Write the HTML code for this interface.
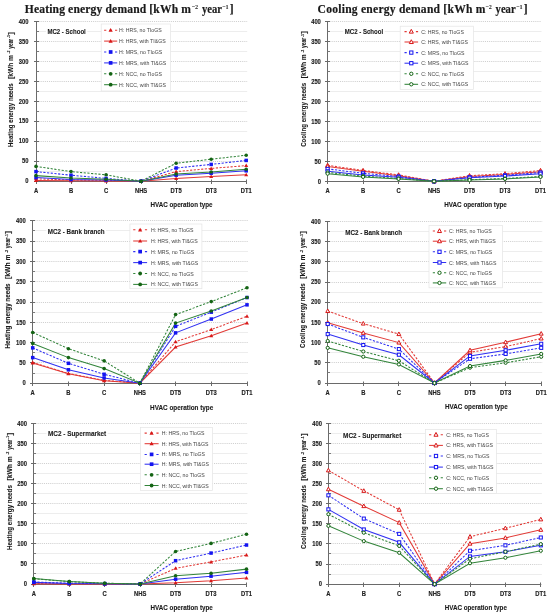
<!DOCTYPE html><html><head><meta charset="utf-8"><style>html,body{margin:0;padding:0;background:#fff;overflow:hidden;width:550px;height:615px;}svg{display:block;will-change:transform;}.tk{font-family:"Liberation Sans",sans-serif;font-weight:bold;font-size:6.6px;fill:#222;stroke:#222;stroke-width:0.14px}.axt{font-family:"Liberation Sans",sans-serif;font-weight:bold;font-size:6.8px;fill:#1a1a1a;stroke:#1a1a1a;stroke-width:0.1px}.lab{font-family:"Liberation Sans",sans-serif;font-weight:bold;font-size:7.2px;fill:#1a1a1a;stroke:#1a1a1a;stroke-width:0.1px}.ttl{font-family:"Liberation Serif",serif;font-weight:bold;font-size:11.6px;fill:#1a1a1a;stroke:#1a1a1a;stroke-width:0.18px}.sup{font-family:"Liberation Serif",serif;font-weight:bold;font-size:6.2px;fill:#161616}.yt{font-family:"Liberation Sans",sans-serif;font-weight:bold;font-size:7.8px;fill:#1a1a1a;stroke:#1a1a1a;stroke-width:0.1px}.lg{font-family:"Liberation Sans",sans-serif;font-size:6.1px;fill:#444}</style></head><body>
<svg width="550" height="615" viewBox="0 0 550 615">
<rect width="550" height="615" fill="#fff"/>
<line x1="38.50" y1="171.50" x2="247.20" y2="171.50" stroke="#ededed" stroke-width="1"/>
<line x1="38.50" y1="161.50" x2="247.20" y2="161.50" stroke="#d0d0d0" stroke-width="1" stroke-dasharray="1.1,1.0"/>
<line x1="38.50" y1="151.50" x2="247.20" y2="151.50" stroke="#ededed" stroke-width="1"/>
<line x1="38.50" y1="141.50" x2="247.20" y2="141.50" stroke="#d0d0d0" stroke-width="1" stroke-dasharray="1.1,1.0"/>
<line x1="38.50" y1="131.50" x2="247.20" y2="131.50" stroke="#ededed" stroke-width="1"/>
<line x1="38.50" y1="121.50" x2="247.20" y2="121.50" stroke="#d0d0d0" stroke-width="1" stroke-dasharray="1.1,1.0"/>
<line x1="38.50" y1="111.50" x2="247.20" y2="111.50" stroke="#ededed" stroke-width="1"/>
<line x1="38.50" y1="101.50" x2="247.20" y2="101.50" stroke="#d0d0d0" stroke-width="1" stroke-dasharray="1.1,1.0"/>
<line x1="38.50" y1="91.50" x2="247.20" y2="91.50" stroke="#ededed" stroke-width="1"/>
<line x1="38.50" y1="81.50" x2="247.20" y2="81.50" stroke="#d0d0d0" stroke-width="1" stroke-dasharray="1.1,1.0"/>
<line x1="38.50" y1="71.50" x2="247.20" y2="71.50" stroke="#ededed" stroke-width="1"/>
<line x1="38.50" y1="61.50" x2="247.20" y2="61.50" stroke="#d0d0d0" stroke-width="1" stroke-dasharray="1.1,1.0"/>
<line x1="38.50" y1="51.50" x2="247.20" y2="51.50" stroke="#ededed" stroke-width="1"/>
<line x1="38.50" y1="41.50" x2="247.20" y2="41.50" stroke="#d0d0d0" stroke-width="1" stroke-dasharray="1.1,1.0"/>
<line x1="38.50" y1="31.50" x2="247.20" y2="31.50" stroke="#ededed" stroke-width="1"/>
<line x1="38.50" y1="21.50" x2="247.20" y2="21.50" stroke="#d0d0d0" stroke-width="1" stroke-dasharray="1.1,1.0"/>
<line x1="36.50" y1="21.00" x2="36.50" y2="182.00" stroke="#6a6a6a" stroke-width="1.0"/>
<line x1="34.00" y1="181.50" x2="39.00" y2="181.50" stroke="#6a6a6a" stroke-width="1"/>
<text x="28.60" y="183.40" text-anchor="end" class="tk" textLength="3.25" lengthAdjust="spacingAndGlyphs">0</text>
<line x1="36.50" y1="171.50" x2="39.00" y2="171.50" stroke="#7a7a7a" stroke-width="1"/>
<line x1="34.00" y1="161.50" x2="39.00" y2="161.50" stroke="#6a6a6a" stroke-width="1"/>
<text x="28.60" y="163.42" text-anchor="end" class="tk" textLength="6.51" lengthAdjust="spacingAndGlyphs">50</text>
<line x1="36.50" y1="151.50" x2="39.00" y2="151.50" stroke="#7a7a7a" stroke-width="1"/>
<line x1="34.00" y1="141.50" x2="39.00" y2="141.50" stroke="#6a6a6a" stroke-width="1"/>
<text x="28.60" y="143.45" text-anchor="end" class="tk" textLength="9.76" lengthAdjust="spacingAndGlyphs">100</text>
<line x1="36.50" y1="131.50" x2="39.00" y2="131.50" stroke="#7a7a7a" stroke-width="1"/>
<line x1="34.00" y1="121.50" x2="39.00" y2="121.50" stroke="#6a6a6a" stroke-width="1"/>
<text x="28.60" y="123.47" text-anchor="end" class="tk" textLength="9.76" lengthAdjust="spacingAndGlyphs">150</text>
<line x1="36.50" y1="111.50" x2="39.00" y2="111.50" stroke="#7a7a7a" stroke-width="1"/>
<line x1="34.00" y1="101.50" x2="39.00" y2="101.50" stroke="#6a6a6a" stroke-width="1"/>
<text x="28.60" y="103.50" text-anchor="end" class="tk" textLength="9.76" lengthAdjust="spacingAndGlyphs">200</text>
<line x1="36.50" y1="91.50" x2="39.00" y2="91.50" stroke="#7a7a7a" stroke-width="1"/>
<line x1="34.00" y1="81.50" x2="39.00" y2="81.50" stroke="#6a6a6a" stroke-width="1"/>
<text x="28.60" y="83.53" text-anchor="end" class="tk" textLength="9.76" lengthAdjust="spacingAndGlyphs">250</text>
<line x1="36.50" y1="71.50" x2="39.00" y2="71.50" stroke="#7a7a7a" stroke-width="1"/>
<line x1="34.00" y1="61.50" x2="39.00" y2="61.50" stroke="#6a6a6a" stroke-width="1"/>
<text x="28.60" y="63.55" text-anchor="end" class="tk" textLength="9.76" lengthAdjust="spacingAndGlyphs">300</text>
<line x1="36.50" y1="51.50" x2="39.00" y2="51.50" stroke="#7a7a7a" stroke-width="1"/>
<line x1="34.00" y1="41.50" x2="39.00" y2="41.50" stroke="#6a6a6a" stroke-width="1"/>
<text x="28.60" y="43.58" text-anchor="end" class="tk" textLength="9.76" lengthAdjust="spacingAndGlyphs">350</text>
<line x1="36.50" y1="31.50" x2="39.00" y2="31.50" stroke="#7a7a7a" stroke-width="1"/>
<line x1="34.00" y1="21.50" x2="39.00" y2="21.50" stroke="#6a6a6a" stroke-width="1"/>
<text x="28.60" y="23.60" text-anchor="end" class="tk" textLength="9.76" lengthAdjust="spacingAndGlyphs">400</text>
<line x1="36.50" y1="181.50" x2="246.70" y2="181.50" stroke="#6a6a6a" stroke-width="1.0"/>
<line x1="36.50" y1="179.50" x2="36.50" y2="184.00" stroke="#6a6a6a" stroke-width="1"/>
<text x="36.00" y="192.80" text-anchor="middle" class="tk" textLength="4.22" lengthAdjust="spacingAndGlyphs">A</text>
<line x1="71.50" y1="179.50" x2="71.50" y2="184.00" stroke="#6a6a6a" stroke-width="1"/>
<text x="71.03" y="192.80" text-anchor="middle" class="tk" textLength="4.22" lengthAdjust="spacingAndGlyphs">B</text>
<line x1="106.50" y1="179.50" x2="106.50" y2="184.00" stroke="#6a6a6a" stroke-width="1"/>
<text x="106.07" y="192.80" text-anchor="middle" class="tk" textLength="4.22" lengthAdjust="spacingAndGlyphs">C</text>
<line x1="141.50" y1="179.50" x2="141.50" y2="184.00" stroke="#6a6a6a" stroke-width="1"/>
<text x="141.10" y="192.80" text-anchor="middle" class="tk" textLength="12.35" lengthAdjust="spacingAndGlyphs">NHS</text>
<line x1="176.50" y1="179.50" x2="176.50" y2="184.00" stroke="#6a6a6a" stroke-width="1"/>
<text x="176.13" y="192.80" text-anchor="middle" class="tk" textLength="11.05" lengthAdjust="spacingAndGlyphs">DT5</text>
<line x1="211.50" y1="179.50" x2="211.50" y2="184.00" stroke="#6a6a6a" stroke-width="1"/>
<text x="211.17" y="192.80" text-anchor="middle" class="tk" textLength="11.05" lengthAdjust="spacingAndGlyphs">DT3</text>
<line x1="246.50" y1="179.50" x2="246.50" y2="184.00" stroke="#6a6a6a" stroke-width="1"/>
<text x="246.20" y="192.80" text-anchor="middle" class="tk" textLength="11.05" lengthAdjust="spacingAndGlyphs">DT1</text>
<text x="150.50" y="206.80" class="axt" textLength="62.10" lengthAdjust="spacingAndGlyphs">HVAC operation type</text>
<g transform="translate(12.80,146.90) rotate(-90)"><text x="0" y="0" class="yt" textLength="63.49" lengthAdjust="spacingAndGlyphs">Heating energy needs</text><text x="68.07" y="0" class="yt" textLength="23.72" lengthAdjust="spacingAndGlyphs">[kWh m</text><text x="93.51" y="-2.4" class="yt" style="font-size:4.2px" textLength="2.75" lengthAdjust="spacingAndGlyphs">-2</text><text x="98.10" y="0" class="yt" textLength="10.08" lengthAdjust="spacingAndGlyphs">year</text><text x="108.87" y="-2.4" class="yt" style="font-size:4.2px" textLength="2.75" lengthAdjust="spacingAndGlyphs">-1</text><text x="112.19" y="0" class="yt" textLength="2.75" lengthAdjust="spacingAndGlyphs">]</text></g>
<polyline points="36.00,178.80 71.03,180.00 106.07,180.40 141.10,181.20 176.13,171.61 211.17,168.42 246.20,165.62" fill="none" stroke="#e23a36" stroke-width="1.05" stroke-dasharray="2.2,1.5"/>
<polyline points="36.00,180.40 71.03,180.80 106.07,181.00 141.10,181.20 176.13,178.40 211.17,176.41 246.20,174.81" fill="none" stroke="#e23a36" stroke-width="1.05"/>
<polyline points="36.00,171.61 71.03,175.21 106.07,178.40 141.10,181.20 176.13,168.02 211.17,164.42 246.20,160.43" fill="none" stroke="#3030f2" stroke-width="1.05" stroke-dasharray="2.2,1.5"/>
<polyline points="36.00,177.60 71.03,179.60 106.07,180.00 141.10,181.20 176.13,175.21 211.17,173.21 246.20,170.81" fill="none" stroke="#3030f2" stroke-width="1.05"/>
<polyline points="36.00,166.42 71.03,171.61 106.07,174.81 141.10,181.20 176.13,163.22 211.17,159.23 246.20,155.23" fill="none" stroke="#32843a" stroke-width="1.05" stroke-dasharray="2.2,1.5"/>
<polyline points="36.00,175.61 71.03,178.00 106.07,179.20 141.10,181.20 176.13,174.01 211.17,172.01 246.20,169.21" fill="none" stroke="#32843a" stroke-width="1.05"/>
<path d="M36.00,176.80L38.00,180.30L34.00,180.30Z" fill="#d81818"/>
<path d="M71.03,178.00L73.03,181.50L69.03,181.50Z" fill="#d81818"/>
<path d="M106.07,178.40L108.07,181.90L104.07,181.90Z" fill="#d81818"/>
<path d="M141.10,179.20L143.10,182.70L139.10,182.70Z" fill="#d81818"/>
<path d="M176.13,169.61L178.13,173.11L174.13,173.11Z" fill="#d81818"/>
<path d="M211.17,166.42L213.17,169.92L209.17,169.92Z" fill="#d81818"/>
<path d="M246.20,163.62L248.20,167.12L244.20,167.12Z" fill="#d81818"/>
<path d="M36.00,178.40L38.00,181.90L34.00,181.90Z" fill="#d81818"/>
<path d="M71.03,178.80L73.03,182.30L69.03,182.30Z" fill="#d81818"/>
<path d="M106.07,179.00L108.07,182.50L104.07,182.50Z" fill="#d81818"/>
<path d="M141.10,179.20L143.10,182.70L139.10,182.70Z" fill="#d81818"/>
<path d="M176.13,176.40L178.13,179.90L174.13,179.90Z" fill="#d81818"/>
<path d="M211.17,174.41L213.17,177.91L209.17,177.91Z" fill="#d81818"/>
<path d="M246.20,172.81L248.20,176.31L244.20,176.31Z" fill="#d81818"/>
<rect x="34.25" y="169.86" width="3.50" height="3.50" fill="#1414f0"/>
<rect x="69.28" y="173.46" width="3.50" height="3.50" fill="#1414f0"/>
<rect x="104.32" y="176.65" width="3.50" height="3.50" fill="#1414f0"/>
<rect x="139.35" y="179.45" width="3.50" height="3.50" fill="#1414f0"/>
<rect x="174.38" y="166.27" width="3.50" height="3.50" fill="#1414f0"/>
<rect x="209.42" y="162.67" width="3.50" height="3.50" fill="#1414f0"/>
<rect x="244.45" y="158.68" width="3.50" height="3.50" fill="#1414f0"/>
<rect x="34.25" y="175.85" width="3.50" height="3.50" fill="#1414f0"/>
<rect x="69.28" y="177.85" width="3.50" height="3.50" fill="#1414f0"/>
<rect x="104.32" y="178.25" width="3.50" height="3.50" fill="#1414f0"/>
<rect x="139.35" y="179.45" width="3.50" height="3.50" fill="#1414f0"/>
<rect x="174.38" y="173.46" width="3.50" height="3.50" fill="#1414f0"/>
<rect x="209.42" y="171.46" width="3.50" height="3.50" fill="#1414f0"/>
<rect x="244.45" y="169.06" width="3.50" height="3.50" fill="#1414f0"/>
<circle cx="36.00" cy="166.42" r="1.80" fill="#146414"/>
<circle cx="71.03" cy="171.61" r="1.80" fill="#146414"/>
<circle cx="106.07" cy="174.81" r="1.80" fill="#146414"/>
<circle cx="141.10" cy="181.20" r="1.80" fill="#146414"/>
<circle cx="176.13" cy="163.22" r="1.80" fill="#146414"/>
<circle cx="211.17" cy="159.23" r="1.80" fill="#146414"/>
<circle cx="246.20" cy="155.23" r="1.80" fill="#146414"/>
<circle cx="36.00" cy="175.61" r="1.80" fill="#146414"/>
<circle cx="71.03" cy="178.00" r="1.80" fill="#146414"/>
<circle cx="106.07" cy="179.20" r="1.80" fill="#146414"/>
<circle cx="141.10" cy="181.20" r="1.80" fill="#146414"/>
<circle cx="176.13" cy="174.01" r="1.80" fill="#146414"/>
<circle cx="211.17" cy="172.01" r="1.80" fill="#146414"/>
<circle cx="246.20" cy="169.21" r="1.80" fill="#146414"/>
<rect x="45.90" y="27.50" width="41.40" height="8" fill="#fff"/>
<text x="47.40" y="33.50" class="lab" textLength="38.40" lengthAdjust="spacingAndGlyphs">MC2 - School</text>
<rect x="101.20" y="24.00" width="69.40" height="67.00" fill="#fff" stroke="#e4e4e4" stroke-width="0.7"/>
<path d="M104.10,30.20H106.30M109.25,30.20H112.05M115.00,30.20H117.20" stroke="#e23a36" stroke-width="1.05"/>
<path d="M110.65,28.10L112.75,31.77L108.55,31.77Z" fill="#d81818"/>
<text x="119.00" y="32.20" class="lg" textLength="42.67" lengthAdjust="spacingAndGlyphs">H: HRS, no TIoGS</text>
<line x1="104.10" y1="41.10" x2="117.20" y2="41.10" stroke="#e23a36" stroke-width="1.05"/>
<path d="M110.65,39.00L112.75,42.68L108.55,42.68Z" fill="#d81818"/>
<text x="119.00" y="43.10" class="lg" textLength="46.71" lengthAdjust="spacingAndGlyphs">H: HRS, with TI&amp;GS</text>
<path d="M104.10,52.00H106.30M109.25,52.00H112.05M115.00,52.00H117.20" stroke="#3030f2" stroke-width="1.05"/>
<rect x="108.81" y="50.16" width="3.68" height="3.68" fill="#1414f0"/>
<text x="119.00" y="54.00" class="lg" textLength="43.25" lengthAdjust="spacingAndGlyphs">H: MRS, no TIoGS</text>
<line x1="104.10" y1="62.90" x2="117.20" y2="62.90" stroke="#3030f2" stroke-width="1.05"/>
<rect x="108.81" y="61.06" width="3.68" height="3.68" fill="#1414f0"/>
<text x="119.00" y="64.90" class="lg" textLength="47.29" lengthAdjust="spacingAndGlyphs">H: MRS, with TI&amp;GS</text>
<path d="M104.10,73.80H106.30M109.25,73.80H112.05M115.00,73.80H117.20" stroke="#32843a" stroke-width="1.05"/>
<circle cx="110.65" cy="73.80" r="1.89" fill="#146414"/>
<text x="119.00" y="75.80" class="lg" textLength="42.96" lengthAdjust="spacingAndGlyphs">H: NCC, no TIoGS</text>
<line x1="104.10" y1="84.70" x2="117.20" y2="84.70" stroke="#32843a" stroke-width="1.05"/>
<circle cx="110.65" cy="84.70" r="1.89" fill="#146414"/>
<text x="119.00" y="86.70" class="lg" textLength="47.00" lengthAdjust="spacingAndGlyphs">H: NCC, with TI&amp;GS</text>
<line x1="329.50" y1="171.50" x2="541.50" y2="171.50" stroke="#ededed" stroke-width="1"/>
<line x1="329.50" y1="161.50" x2="541.50" y2="161.50" stroke="#d0d0d0" stroke-width="1" stroke-dasharray="1.1,1.0"/>
<line x1="329.50" y1="151.50" x2="541.50" y2="151.50" stroke="#ededed" stroke-width="1"/>
<line x1="329.50" y1="141.50" x2="541.50" y2="141.50" stroke="#d0d0d0" stroke-width="1" stroke-dasharray="1.1,1.0"/>
<line x1="329.50" y1="131.50" x2="541.50" y2="131.50" stroke="#ededed" stroke-width="1"/>
<line x1="329.50" y1="121.50" x2="541.50" y2="121.50" stroke="#d0d0d0" stroke-width="1" stroke-dasharray="1.1,1.0"/>
<line x1="329.50" y1="111.50" x2="541.50" y2="111.50" stroke="#ededed" stroke-width="1"/>
<line x1="329.50" y1="101.50" x2="541.50" y2="101.50" stroke="#d0d0d0" stroke-width="1" stroke-dasharray="1.1,1.0"/>
<line x1="329.50" y1="91.50" x2="541.50" y2="91.50" stroke="#ededed" stroke-width="1"/>
<line x1="329.50" y1="81.50" x2="541.50" y2="81.50" stroke="#d0d0d0" stroke-width="1" stroke-dasharray="1.1,1.0"/>
<line x1="329.50" y1="71.50" x2="541.50" y2="71.50" stroke="#ededed" stroke-width="1"/>
<line x1="329.50" y1="61.50" x2="541.50" y2="61.50" stroke="#d0d0d0" stroke-width="1" stroke-dasharray="1.1,1.0"/>
<line x1="329.50" y1="51.50" x2="541.50" y2="51.50" stroke="#ededed" stroke-width="1"/>
<line x1="329.50" y1="41.50" x2="541.50" y2="41.50" stroke="#d0d0d0" stroke-width="1" stroke-dasharray="1.1,1.0"/>
<line x1="329.50" y1="31.50" x2="541.50" y2="31.50" stroke="#ededed" stroke-width="1"/>
<line x1="329.50" y1="21.50" x2="541.50" y2="21.50" stroke="#d0d0d0" stroke-width="1" stroke-dasharray="1.1,1.0"/>
<line x1="327.50" y1="21.00" x2="327.50" y2="182.00" stroke="#6a6a6a" stroke-width="1.0"/>
<line x1="325.00" y1="181.50" x2="330.00" y2="181.50" stroke="#6a6a6a" stroke-width="1"/>
<text x="320.90" y="183.50" text-anchor="end" class="tk" textLength="3.25" lengthAdjust="spacingAndGlyphs">0</text>
<line x1="327.50" y1="171.50" x2="330.00" y2="171.50" stroke="#7a7a7a" stroke-width="1"/>
<line x1="325.00" y1="161.50" x2="330.00" y2="161.50" stroke="#6a6a6a" stroke-width="1"/>
<text x="320.90" y="163.50" text-anchor="end" class="tk" textLength="6.51" lengthAdjust="spacingAndGlyphs">50</text>
<line x1="327.50" y1="151.50" x2="330.00" y2="151.50" stroke="#7a7a7a" stroke-width="1"/>
<line x1="325.00" y1="141.50" x2="330.00" y2="141.50" stroke="#6a6a6a" stroke-width="1"/>
<text x="320.90" y="143.50" text-anchor="end" class="tk" textLength="9.76" lengthAdjust="spacingAndGlyphs">100</text>
<line x1="327.50" y1="131.50" x2="330.00" y2="131.50" stroke="#7a7a7a" stroke-width="1"/>
<line x1="325.00" y1="121.50" x2="330.00" y2="121.50" stroke="#6a6a6a" stroke-width="1"/>
<text x="320.90" y="123.50" text-anchor="end" class="tk" textLength="9.76" lengthAdjust="spacingAndGlyphs">150</text>
<line x1="327.50" y1="111.50" x2="330.00" y2="111.50" stroke="#7a7a7a" stroke-width="1"/>
<line x1="325.00" y1="101.50" x2="330.00" y2="101.50" stroke="#6a6a6a" stroke-width="1"/>
<text x="320.90" y="103.50" text-anchor="end" class="tk" textLength="9.76" lengthAdjust="spacingAndGlyphs">200</text>
<line x1="327.50" y1="91.50" x2="330.00" y2="91.50" stroke="#7a7a7a" stroke-width="1"/>
<line x1="325.00" y1="81.50" x2="330.00" y2="81.50" stroke="#6a6a6a" stroke-width="1"/>
<text x="320.90" y="83.50" text-anchor="end" class="tk" textLength="9.76" lengthAdjust="spacingAndGlyphs">250</text>
<line x1="327.50" y1="71.50" x2="330.00" y2="71.50" stroke="#7a7a7a" stroke-width="1"/>
<line x1="325.00" y1="61.50" x2="330.00" y2="61.50" stroke="#6a6a6a" stroke-width="1"/>
<text x="320.90" y="63.50" text-anchor="end" class="tk" textLength="9.76" lengthAdjust="spacingAndGlyphs">300</text>
<line x1="327.50" y1="51.50" x2="330.00" y2="51.50" stroke="#7a7a7a" stroke-width="1"/>
<line x1="325.00" y1="41.50" x2="330.00" y2="41.50" stroke="#6a6a6a" stroke-width="1"/>
<text x="320.90" y="43.50" text-anchor="end" class="tk" textLength="9.76" lengthAdjust="spacingAndGlyphs">350</text>
<line x1="327.50" y1="31.50" x2="330.00" y2="31.50" stroke="#7a7a7a" stroke-width="1"/>
<line x1="325.00" y1="21.50" x2="330.00" y2="21.50" stroke="#6a6a6a" stroke-width="1"/>
<text x="320.90" y="23.50" text-anchor="end" class="tk" textLength="9.76" lengthAdjust="spacingAndGlyphs">400</text>
<line x1="327.50" y1="181.50" x2="541.00" y2="181.50" stroke="#6a6a6a" stroke-width="1.0"/>
<line x1="327.50" y1="179.50" x2="327.50" y2="184.00" stroke="#6a6a6a" stroke-width="1"/>
<text x="327.60" y="192.90" text-anchor="middle" class="tk" textLength="4.22" lengthAdjust="spacingAndGlyphs">A</text>
<line x1="363.50" y1="179.50" x2="363.50" y2="184.00" stroke="#6a6a6a" stroke-width="1"/>
<text x="363.08" y="192.90" text-anchor="middle" class="tk" textLength="4.22" lengthAdjust="spacingAndGlyphs">B</text>
<line x1="398.50" y1="179.50" x2="398.50" y2="184.00" stroke="#6a6a6a" stroke-width="1"/>
<text x="398.57" y="192.90" text-anchor="middle" class="tk" textLength="4.22" lengthAdjust="spacingAndGlyphs">C</text>
<line x1="434.50" y1="179.50" x2="434.50" y2="184.00" stroke="#6a6a6a" stroke-width="1"/>
<text x="434.05" y="192.90" text-anchor="middle" class="tk" textLength="12.35" lengthAdjust="spacingAndGlyphs">NHS</text>
<line x1="469.50" y1="179.50" x2="469.50" y2="184.00" stroke="#6a6a6a" stroke-width="1"/>
<text x="469.53" y="192.90" text-anchor="middle" class="tk" textLength="11.05" lengthAdjust="spacingAndGlyphs">DT5</text>
<line x1="505.50" y1="179.50" x2="505.50" y2="184.00" stroke="#6a6a6a" stroke-width="1"/>
<text x="505.02" y="192.90" text-anchor="middle" class="tk" textLength="11.05" lengthAdjust="spacingAndGlyphs">DT3</text>
<line x1="540.50" y1="179.50" x2="540.50" y2="184.00" stroke="#6a6a6a" stroke-width="1"/>
<text x="540.50" y="192.90" text-anchor="middle" class="tk" textLength="11.05" lengthAdjust="spacingAndGlyphs">DT1</text>
<text x="444.30" y="207.00" class="axt" textLength="62.50" lengthAdjust="spacingAndGlyphs">HVAC operation type</text>
<g transform="translate(306.10,146.80) rotate(-90)"><text x="0" y="0" class="yt" textLength="63.99" lengthAdjust="spacingAndGlyphs">Cooling energy needs</text><text x="68.61" y="0" class="yt" textLength="23.91" lengthAdjust="spacingAndGlyphs">[kWh m</text><text x="94.25" y="-2.4" class="yt" style="font-size:4.2px" textLength="2.77" lengthAdjust="spacingAndGlyphs">-2</text><text x="98.87" y="0" class="yt" textLength="10.16" lengthAdjust="spacingAndGlyphs">year</text><text x="109.73" y="-2.4" class="yt" style="font-size:4.2px" textLength="2.77" lengthAdjust="spacingAndGlyphs">-1</text><text x="113.07" y="0" class="yt" textLength="2.77" lengthAdjust="spacingAndGlyphs">]</text></g>
<polyline points="327.60,165.30 363.08,170.50 398.57,174.90 434.05,181.30 469.53,175.70 505.02,173.70 540.50,170.50" fill="none" stroke="#e23a36" stroke-width="1.05" stroke-dasharray="2.2,1.5"/>
<polyline points="327.60,166.50 363.08,171.30 398.57,175.70 434.05,181.30 469.53,176.50 505.02,174.50 540.50,171.70" fill="none" stroke="#e23a36" stroke-width="1.05"/>
<polyline points="327.60,168.90 363.08,173.30 398.57,176.50 434.05,181.30 469.53,177.30 505.02,175.30 540.50,172.50" fill="none" stroke="#3030f2" stroke-width="1.05" stroke-dasharray="2.2,1.5"/>
<polyline points="327.60,171.30 363.08,174.90 398.57,177.30 434.05,181.30 469.53,177.70 505.02,176.10 540.50,173.70" fill="none" stroke="#3030f2" stroke-width="1.05"/>
<polyline points="327.60,172.50 363.08,176.10 398.57,178.50 434.05,181.30 469.53,179.70 505.02,178.50 540.50,176.50" fill="none" stroke="#32843a" stroke-width="1.05" stroke-dasharray="2.2,1.5"/>
<polyline points="327.60,173.70 363.08,176.90 398.57,178.90 434.05,181.30 469.53,180.10 505.02,178.90 540.50,176.90" fill="none" stroke="#32843a" stroke-width="1.05"/>
<path d="M327.60,163.16L329.55,166.76L325.65,166.76Z" fill="#fff" stroke="#d81818" stroke-width="1.0"/>
<path d="M363.08,168.35L365.03,171.96L361.13,171.96Z" fill="#fff" stroke="#d81818" stroke-width="1.0"/>
<path d="M398.57,172.75L400.52,176.36L396.62,176.36Z" fill="#fff" stroke="#d81818" stroke-width="1.0"/>
<path d="M434.05,179.16L436.00,182.76L432.10,182.76Z" fill="#fff" stroke="#d81818" stroke-width="1.0"/>
<path d="M469.53,173.56L471.48,177.16L467.58,177.16Z" fill="#fff" stroke="#d81818" stroke-width="1.0"/>
<path d="M505.02,171.56L506.97,175.16L503.07,175.16Z" fill="#fff" stroke="#d81818" stroke-width="1.0"/>
<path d="M540.50,168.35L542.45,171.96L538.55,171.96Z" fill="#fff" stroke="#d81818" stroke-width="1.0"/>
<path d="M327.60,164.35L329.55,167.96L325.65,167.96Z" fill="#fff" stroke="#d81818" stroke-width="1.0"/>
<path d="M363.08,169.16L365.03,172.76L361.13,172.76Z" fill="#fff" stroke="#d81818" stroke-width="1.0"/>
<path d="M398.57,173.56L400.52,177.16L396.62,177.16Z" fill="#fff" stroke="#d81818" stroke-width="1.0"/>
<path d="M434.05,179.16L436.00,182.76L432.10,182.76Z" fill="#fff" stroke="#d81818" stroke-width="1.0"/>
<path d="M469.53,174.35L471.48,177.96L467.58,177.96Z" fill="#fff" stroke="#d81818" stroke-width="1.0"/>
<path d="M505.02,172.35L506.97,175.96L503.07,175.96Z" fill="#fff" stroke="#d81818" stroke-width="1.0"/>
<path d="M540.50,169.56L542.45,173.16L538.55,173.16Z" fill="#fff" stroke="#d81818" stroke-width="1.0"/>
<rect x="326.05" y="167.35" width="3.10" height="3.10" fill="#fff" stroke="#1414f0" stroke-width="1.0"/>
<rect x="361.53" y="171.75" width="3.10" height="3.10" fill="#fff" stroke="#1414f0" stroke-width="1.0"/>
<rect x="397.02" y="174.95" width="3.10" height="3.10" fill="#fff" stroke="#1414f0" stroke-width="1.0"/>
<rect x="432.50" y="179.75" width="3.10" height="3.10" fill="#fff" stroke="#1414f0" stroke-width="1.0"/>
<rect x="467.98" y="175.75" width="3.10" height="3.10" fill="#fff" stroke="#1414f0" stroke-width="1.0"/>
<rect x="503.47" y="173.75" width="3.10" height="3.10" fill="#fff" stroke="#1414f0" stroke-width="1.0"/>
<rect x="538.95" y="170.95" width="3.10" height="3.10" fill="#fff" stroke="#1414f0" stroke-width="1.0"/>
<rect x="326.05" y="169.75" width="3.10" height="3.10" fill="#fff" stroke="#1414f0" stroke-width="1.0"/>
<rect x="361.53" y="173.35" width="3.10" height="3.10" fill="#fff" stroke="#1414f0" stroke-width="1.0"/>
<rect x="397.02" y="175.75" width="3.10" height="3.10" fill="#fff" stroke="#1414f0" stroke-width="1.0"/>
<rect x="432.50" y="179.75" width="3.10" height="3.10" fill="#fff" stroke="#1414f0" stroke-width="1.0"/>
<rect x="467.98" y="176.15" width="3.10" height="3.10" fill="#fff" stroke="#1414f0" stroke-width="1.0"/>
<rect x="503.47" y="174.55" width="3.10" height="3.10" fill="#fff" stroke="#1414f0" stroke-width="1.0"/>
<rect x="538.95" y="172.15" width="3.10" height="3.10" fill="#fff" stroke="#1414f0" stroke-width="1.0"/>
<circle cx="327.60" cy="172.50" r="1.60" fill="#fff" stroke="#146414" stroke-width="1.0"/>
<circle cx="363.08" cy="176.10" r="1.60" fill="#fff" stroke="#146414" stroke-width="1.0"/>
<circle cx="398.57" cy="178.50" r="1.60" fill="#fff" stroke="#146414" stroke-width="1.0"/>
<circle cx="434.05" cy="181.30" r="1.60" fill="#fff" stroke="#146414" stroke-width="1.0"/>
<circle cx="469.53" cy="179.70" r="1.60" fill="#fff" stroke="#146414" stroke-width="1.0"/>
<circle cx="505.02" cy="178.50" r="1.60" fill="#fff" stroke="#146414" stroke-width="1.0"/>
<circle cx="540.50" cy="176.50" r="1.60" fill="#fff" stroke="#146414" stroke-width="1.0"/>
<circle cx="327.60" cy="173.70" r="1.60" fill="#fff" stroke="#146414" stroke-width="1.0"/>
<circle cx="363.08" cy="176.90" r="1.60" fill="#fff" stroke="#146414" stroke-width="1.0"/>
<circle cx="398.57" cy="178.90" r="1.60" fill="#fff" stroke="#146414" stroke-width="1.0"/>
<circle cx="434.05" cy="181.30" r="1.60" fill="#fff" stroke="#146414" stroke-width="1.0"/>
<circle cx="469.53" cy="180.10" r="1.60" fill="#fff" stroke="#146414" stroke-width="1.0"/>
<circle cx="505.02" cy="178.90" r="1.60" fill="#fff" stroke="#146414" stroke-width="1.0"/>
<circle cx="540.50" cy="176.90" r="1.60" fill="#fff" stroke="#146414" stroke-width="1.0"/>
<rect x="343.20" y="27.80" width="41.50" height="8" fill="#fff"/>
<text x="344.70" y="33.80" class="lab" textLength="38.50" lengthAdjust="spacingAndGlyphs">MC2 - School</text>
<rect x="400.20" y="26.20" width="73.30" height="63.40" fill="#fff" stroke="#e4e4e4" stroke-width="0.7"/>
<path d="M404.50,31.60H406.70M409.90,31.60H412.70M415.90,31.60H418.10" stroke="#e23a36" stroke-width="1.05"/>
<path d="M411.30,29.35L413.35,33.14L409.25,33.14Z" fill="#fff" stroke="#d81818" stroke-width="1.0"/>
<text x="421.20" y="33.60" class="lg" textLength="42.67" lengthAdjust="spacingAndGlyphs">C: HRS, no TIoGS</text>
<line x1="404.50" y1="42.00" x2="418.10" y2="42.00" stroke="#e23a36" stroke-width="1.05"/>
<path d="M411.30,39.75L413.35,43.54L409.25,43.54Z" fill="#fff" stroke="#d81818" stroke-width="1.0"/>
<text x="421.20" y="44.00" class="lg" textLength="46.71" lengthAdjust="spacingAndGlyphs">C: HRS, with TI&amp;GS</text>
<path d="M404.50,52.60H406.70M409.90,52.60H412.70M415.90,52.60H418.10" stroke="#3030f2" stroke-width="1.05"/>
<rect x="409.67" y="50.97" width="3.26" height="3.26" fill="#fff" stroke="#1414f0" stroke-width="1.0"/>
<text x="421.20" y="54.60" class="lg" textLength="43.25" lengthAdjust="spacingAndGlyphs">C: MRS, no TIoGS</text>
<line x1="404.50" y1="63.20" x2="418.10" y2="63.20" stroke="#3030f2" stroke-width="1.05"/>
<rect x="409.67" y="61.57" width="3.26" height="3.26" fill="#fff" stroke="#1414f0" stroke-width="1.0"/>
<text x="421.20" y="65.20" class="lg" textLength="47.29" lengthAdjust="spacingAndGlyphs">C: MRS, with TI&amp;GS</text>
<path d="M404.50,73.80H406.70M409.90,73.80H412.70M415.90,73.80H418.10" stroke="#32843a" stroke-width="1.05"/>
<circle cx="411.30" cy="73.80" r="1.68" fill="#fff" stroke="#146414" stroke-width="1.0"/>
<text x="421.20" y="75.80" class="lg" textLength="42.96" lengthAdjust="spacingAndGlyphs">C: NCC, no TIoGS</text>
<line x1="404.50" y1="84.30" x2="418.10" y2="84.30" stroke="#32843a" stroke-width="1.05"/>
<circle cx="411.30" cy="84.30" r="1.68" fill="#fff" stroke="#146414" stroke-width="1.0"/>
<text x="421.20" y="86.30" class="lg" textLength="47.00" lengthAdjust="spacingAndGlyphs">C: NCC, with TI&amp;GS</text>
<line x1="34.50" y1="373.50" x2="248.00" y2="373.50" stroke="#ededed" stroke-width="1"/>
<line x1="34.50" y1="362.50" x2="248.00" y2="362.50" stroke="#d0d0d0" stroke-width="1" stroke-dasharray="1.1,1.0"/>
<line x1="34.50" y1="352.50" x2="248.00" y2="352.50" stroke="#ededed" stroke-width="1"/>
<line x1="34.50" y1="342.50" x2="248.00" y2="342.50" stroke="#d0d0d0" stroke-width="1" stroke-dasharray="1.1,1.0"/>
<line x1="34.50" y1="332.50" x2="248.00" y2="332.50" stroke="#ededed" stroke-width="1"/>
<line x1="34.50" y1="322.50" x2="248.00" y2="322.50" stroke="#d0d0d0" stroke-width="1" stroke-dasharray="1.1,1.0"/>
<line x1="34.50" y1="312.50" x2="248.00" y2="312.50" stroke="#ededed" stroke-width="1"/>
<line x1="34.50" y1="302.50" x2="248.00" y2="302.50" stroke="#d0d0d0" stroke-width="1" stroke-dasharray="1.1,1.0"/>
<line x1="34.50" y1="291.50" x2="248.00" y2="291.50" stroke="#ededed" stroke-width="1"/>
<line x1="34.50" y1="281.50" x2="248.00" y2="281.50" stroke="#d0d0d0" stroke-width="1" stroke-dasharray="1.1,1.0"/>
<line x1="34.50" y1="271.50" x2="248.00" y2="271.50" stroke="#ededed" stroke-width="1"/>
<line x1="34.50" y1="261.50" x2="248.00" y2="261.50" stroke="#d0d0d0" stroke-width="1" stroke-dasharray="1.1,1.0"/>
<line x1="34.50" y1="251.50" x2="248.00" y2="251.50" stroke="#ededed" stroke-width="1"/>
<line x1="34.50" y1="241.50" x2="248.00" y2="241.50" stroke="#d0d0d0" stroke-width="1" stroke-dasharray="1.1,1.0"/>
<line x1="34.50" y1="230.50" x2="248.00" y2="230.50" stroke="#ededed" stroke-width="1"/>
<line x1="34.50" y1="220.50" x2="248.00" y2="220.50" stroke="#d0d0d0" stroke-width="1" stroke-dasharray="1.1,1.0"/>
<line x1="32.50" y1="220.00" x2="32.50" y2="384.00" stroke="#6a6a6a" stroke-width="1.0"/>
<line x1="30.00" y1="383.50" x2="35.00" y2="383.50" stroke="#6a6a6a" stroke-width="1"/>
<text x="25.80" y="385.40" text-anchor="end" class="tk" textLength="3.25" lengthAdjust="spacingAndGlyphs">0</text>
<line x1="32.50" y1="373.50" x2="35.00" y2="373.50" stroke="#7a7a7a" stroke-width="1"/>
<line x1="30.00" y1="362.50" x2="35.00" y2="362.50" stroke="#6a6a6a" stroke-width="1"/>
<text x="25.80" y="365.10" text-anchor="end" class="tk" textLength="6.51" lengthAdjust="spacingAndGlyphs">50</text>
<line x1="32.50" y1="352.50" x2="35.00" y2="352.50" stroke="#7a7a7a" stroke-width="1"/>
<line x1="30.00" y1="342.50" x2="35.00" y2="342.50" stroke="#6a6a6a" stroke-width="1"/>
<text x="25.80" y="344.80" text-anchor="end" class="tk" textLength="9.76" lengthAdjust="spacingAndGlyphs">100</text>
<line x1="32.50" y1="332.50" x2="35.00" y2="332.50" stroke="#7a7a7a" stroke-width="1"/>
<line x1="30.00" y1="322.50" x2="35.00" y2="322.50" stroke="#6a6a6a" stroke-width="1"/>
<text x="25.80" y="324.50" text-anchor="end" class="tk" textLength="9.76" lengthAdjust="spacingAndGlyphs">150</text>
<line x1="32.50" y1="312.50" x2="35.00" y2="312.50" stroke="#7a7a7a" stroke-width="1"/>
<line x1="30.00" y1="302.50" x2="35.00" y2="302.50" stroke="#6a6a6a" stroke-width="1"/>
<text x="25.80" y="304.20" text-anchor="end" class="tk" textLength="9.76" lengthAdjust="spacingAndGlyphs">200</text>
<line x1="32.50" y1="291.50" x2="35.00" y2="291.50" stroke="#7a7a7a" stroke-width="1"/>
<line x1="30.00" y1="281.50" x2="35.00" y2="281.50" stroke="#6a6a6a" stroke-width="1"/>
<text x="25.80" y="283.90" text-anchor="end" class="tk" textLength="9.76" lengthAdjust="spacingAndGlyphs">250</text>
<line x1="32.50" y1="271.50" x2="35.00" y2="271.50" stroke="#7a7a7a" stroke-width="1"/>
<line x1="30.00" y1="261.50" x2="35.00" y2="261.50" stroke="#6a6a6a" stroke-width="1"/>
<text x="25.80" y="263.60" text-anchor="end" class="tk" textLength="9.76" lengthAdjust="spacingAndGlyphs">300</text>
<line x1="32.50" y1="251.50" x2="35.00" y2="251.50" stroke="#7a7a7a" stroke-width="1"/>
<line x1="30.00" y1="241.50" x2="35.00" y2="241.50" stroke="#6a6a6a" stroke-width="1"/>
<text x="25.80" y="243.30" text-anchor="end" class="tk" textLength="9.76" lengthAdjust="spacingAndGlyphs">350</text>
<line x1="32.50" y1="230.50" x2="35.00" y2="230.50" stroke="#7a7a7a" stroke-width="1"/>
<line x1="30.00" y1="220.50" x2="35.00" y2="220.50" stroke="#6a6a6a" stroke-width="1"/>
<text x="25.80" y="223.00" text-anchor="end" class="tk" textLength="9.76" lengthAdjust="spacingAndGlyphs">400</text>
<line x1="32.50" y1="383.50" x2="247.50" y2="383.50" stroke="#6a6a6a" stroke-width="1.0"/>
<line x1="32.50" y1="381.50" x2="32.50" y2="386.00" stroke="#6a6a6a" stroke-width="1"/>
<text x="32.70" y="394.80" text-anchor="middle" class="tk" textLength="4.22" lengthAdjust="spacingAndGlyphs">A</text>
<line x1="68.50" y1="381.50" x2="68.50" y2="386.00" stroke="#6a6a6a" stroke-width="1"/>
<text x="68.42" y="394.80" text-anchor="middle" class="tk" textLength="4.22" lengthAdjust="spacingAndGlyphs">B</text>
<line x1="104.50" y1="381.50" x2="104.50" y2="386.00" stroke="#6a6a6a" stroke-width="1"/>
<text x="104.13" y="394.80" text-anchor="middle" class="tk" textLength="4.22" lengthAdjust="spacingAndGlyphs">C</text>
<line x1="139.50" y1="381.50" x2="139.50" y2="386.00" stroke="#6a6a6a" stroke-width="1"/>
<text x="139.85" y="394.80" text-anchor="middle" class="tk" textLength="12.35" lengthAdjust="spacingAndGlyphs">NHS</text>
<line x1="175.50" y1="381.50" x2="175.50" y2="386.00" stroke="#6a6a6a" stroke-width="1"/>
<text x="175.57" y="394.80" text-anchor="middle" class="tk" textLength="11.05" lengthAdjust="spacingAndGlyphs">DT5</text>
<line x1="211.50" y1="381.50" x2="211.50" y2="386.00" stroke="#6a6a6a" stroke-width="1"/>
<text x="211.28" y="394.80" text-anchor="middle" class="tk" textLength="11.05" lengthAdjust="spacingAndGlyphs">DT3</text>
<line x1="247.50" y1="381.50" x2="247.50" y2="386.00" stroke="#6a6a6a" stroke-width="1"/>
<text x="247.00" y="394.80" text-anchor="middle" class="tk" textLength="11.05" lengthAdjust="spacingAndGlyphs">DT1</text>
<text x="150.10" y="409.70" class="axt" textLength="63.20" lengthAdjust="spacingAndGlyphs">HVAC operation type</text>
<g transform="translate(10.10,348.50) rotate(-90)"><text x="0" y="0" class="yt" textLength="64.93" lengthAdjust="spacingAndGlyphs">Heating energy needs</text><text x="69.62" y="0" class="yt" textLength="24.26" lengthAdjust="spacingAndGlyphs">[kWh m</text><text x="95.64" y="-2.4" class="yt" style="font-size:4.2px" textLength="2.81" lengthAdjust="spacingAndGlyphs">-2</text><text x="100.32" y="0" class="yt" textLength="10.31" lengthAdjust="spacingAndGlyphs">year</text><text x="111.34" y="-2.4" class="yt" style="font-size:4.2px" textLength="2.81" lengthAdjust="spacingAndGlyphs">-1</text><text x="114.74" y="0" class="yt" textLength="2.81" lengthAdjust="spacingAndGlyphs">]</text></g>
<polyline points="32.70,362.49 68.42,373.46 104.13,380.36 139.85,383.20 175.57,341.79 211.28,329.61 247.00,316.21" fill="none" stroke="#e23a36" stroke-width="1.05" stroke-dasharray="2.2,1.5"/>
<polyline points="32.70,362.90 68.42,373.86 104.13,380.76 139.85,383.20 175.57,347.07 211.28,335.70 247.00,323.11" fill="none" stroke="#e23a36" stroke-width="1.05"/>
<polyline points="32.70,347.88 68.42,363.31 104.13,374.27 139.85,383.20 175.57,326.36 211.28,312.15 247.00,297.53" fill="none" stroke="#3030f2" stroke-width="1.05" stroke-dasharray="2.2,1.5"/>
<polyline points="32.70,357.62 68.42,369.80 104.13,377.92 139.85,383.20 175.57,332.86 211.28,319.05 247.00,304.84" fill="none" stroke="#3030f2" stroke-width="1.05"/>
<polyline points="32.70,332.45 68.42,348.69 104.13,360.87 139.85,383.20 175.57,314.59 211.28,301.59 247.00,287.79" fill="none" stroke="#32843a" stroke-width="1.05" stroke-dasharray="2.2,1.5"/>
<polyline points="32.70,343.41 68.42,357.62 104.13,368.58 139.85,383.20 175.57,323.11 211.28,310.93 247.00,297.53" fill="none" stroke="#32843a" stroke-width="1.05"/>
<path d="M32.70,360.49L34.70,363.99L30.70,363.99Z" fill="#d81818"/>
<path d="M68.42,371.46L70.42,374.96L66.42,374.96Z" fill="#d81818"/>
<path d="M104.13,378.36L106.13,381.86L102.13,381.86Z" fill="#d81818"/>
<path d="M139.85,381.20L141.85,384.70L137.85,384.70Z" fill="#d81818"/>
<path d="M175.57,339.79L177.57,343.29L173.57,343.29Z" fill="#d81818"/>
<path d="M211.28,327.61L213.28,331.11L209.28,331.11Z" fill="#d81818"/>
<path d="M247.00,314.21L249.00,317.71L245.00,317.71Z" fill="#d81818"/>
<path d="M32.70,360.90L34.70,364.40L30.70,364.40Z" fill="#d81818"/>
<path d="M68.42,371.86L70.42,375.36L66.42,375.36Z" fill="#d81818"/>
<path d="M104.13,378.76L106.13,382.26L102.13,382.26Z" fill="#d81818"/>
<path d="M139.85,381.20L141.85,384.70L137.85,384.70Z" fill="#d81818"/>
<path d="M175.57,345.07L177.57,348.57L173.57,348.57Z" fill="#d81818"/>
<path d="M211.28,333.70L213.28,337.20L209.28,337.20Z" fill="#d81818"/>
<path d="M247.00,321.11L249.00,324.61L245.00,324.61Z" fill="#d81818"/>
<rect x="30.95" y="346.13" width="3.50" height="3.50" fill="#1414f0"/>
<rect x="66.67" y="361.56" width="3.50" height="3.50" fill="#1414f0"/>
<rect x="102.38" y="372.52" width="3.50" height="3.50" fill="#1414f0"/>
<rect x="138.10" y="381.45" width="3.50" height="3.50" fill="#1414f0"/>
<rect x="173.82" y="324.61" width="3.50" height="3.50" fill="#1414f0"/>
<rect x="209.53" y="310.40" width="3.50" height="3.50" fill="#1414f0"/>
<rect x="245.25" y="295.78" width="3.50" height="3.50" fill="#1414f0"/>
<rect x="30.95" y="355.87" width="3.50" height="3.50" fill="#1414f0"/>
<rect x="66.67" y="368.05" width="3.50" height="3.50" fill="#1414f0"/>
<rect x="102.38" y="376.17" width="3.50" height="3.50" fill="#1414f0"/>
<rect x="138.10" y="381.45" width="3.50" height="3.50" fill="#1414f0"/>
<rect x="173.82" y="331.11" width="3.50" height="3.50" fill="#1414f0"/>
<rect x="209.53" y="317.30" width="3.50" height="3.50" fill="#1414f0"/>
<rect x="245.25" y="303.09" width="3.50" height="3.50" fill="#1414f0"/>
<circle cx="32.70" cy="332.45" r="1.80" fill="#146414"/>
<circle cx="68.42" cy="348.69" r="1.80" fill="#146414"/>
<circle cx="104.13" cy="360.87" r="1.80" fill="#146414"/>
<circle cx="139.85" cy="383.20" r="1.80" fill="#146414"/>
<circle cx="175.57" cy="314.59" r="1.80" fill="#146414"/>
<circle cx="211.28" cy="301.59" r="1.80" fill="#146414"/>
<circle cx="247.00" cy="287.79" r="1.80" fill="#146414"/>
<circle cx="32.70" cy="343.41" r="1.80" fill="#146414"/>
<circle cx="68.42" cy="357.62" r="1.80" fill="#146414"/>
<circle cx="104.13" cy="368.58" r="1.80" fill="#146414"/>
<circle cx="139.85" cy="383.20" r="1.80" fill="#146414"/>
<circle cx="175.57" cy="323.11" r="1.80" fill="#146414"/>
<circle cx="211.28" cy="310.93" r="1.80" fill="#146414"/>
<circle cx="247.00" cy="297.53" r="1.80" fill="#146414"/>
<rect x="46.30" y="228.00" width="59.80" height="8" fill="#fff"/>
<text x="47.80" y="234.00" class="lab" textLength="56.80" lengthAdjust="spacingAndGlyphs">MC2 - Bank branch</text>
<rect x="129.90" y="224.00" width="72.00" height="64.70" fill="#fff" stroke="#e4e4e4" stroke-width="0.7"/>
<path d="M133.20,229.80H135.40M138.75,229.80H141.55M144.90,229.80H147.10" stroke="#e23a36" stroke-width="1.05"/>
<path d="M140.15,227.70L142.25,231.38L138.05,231.38Z" fill="#d81818"/>
<text x="150.90" y="231.80" class="lg" textLength="42.67" lengthAdjust="spacingAndGlyphs">H: HRS, no TIoGS</text>
<line x1="133.20" y1="241.00" x2="147.10" y2="241.00" stroke="#e23a36" stroke-width="1.05"/>
<path d="M140.15,238.90L142.25,242.57L138.05,242.57Z" fill="#d81818"/>
<text x="150.90" y="243.00" class="lg" textLength="46.71" lengthAdjust="spacingAndGlyphs">H: HRS, with TI&amp;GS</text>
<path d="M133.20,251.60H135.40M138.75,251.60H141.55M144.90,251.60H147.10" stroke="#3030f2" stroke-width="1.05"/>
<rect x="138.31" y="249.76" width="3.68" height="3.68" fill="#1414f0"/>
<text x="150.90" y="253.60" class="lg" textLength="43.25" lengthAdjust="spacingAndGlyphs">H: MRS, no TIoGS</text>
<line x1="133.20" y1="262.60" x2="147.10" y2="262.60" stroke="#3030f2" stroke-width="1.05"/>
<rect x="138.31" y="260.76" width="3.68" height="3.68" fill="#1414f0"/>
<text x="150.90" y="264.60" class="lg" textLength="47.29" lengthAdjust="spacingAndGlyphs">H: MRS, with TI&amp;GS</text>
<path d="M133.20,273.50H135.40M138.75,273.50H141.55M144.90,273.50H147.10" stroke="#32843a" stroke-width="1.05"/>
<circle cx="140.15" cy="273.50" r="1.89" fill="#146414"/>
<text x="150.90" y="275.50" class="lg" textLength="42.96" lengthAdjust="spacingAndGlyphs">H: NCC, no TIoGS</text>
<line x1="133.20" y1="284.40" x2="147.10" y2="284.40" stroke="#32843a" stroke-width="1.05"/>
<circle cx="140.15" cy="284.40" r="1.89" fill="#146414"/>
<text x="150.90" y="286.40" class="lg" textLength="47.00" lengthAdjust="spacingAndGlyphs">H: NCC, with TI&amp;GS</text>
<line x1="329.50" y1="372.50" x2="542.20" y2="372.50" stroke="#ededed" stroke-width="1"/>
<line x1="329.50" y1="362.50" x2="542.20" y2="362.50" stroke="#d0d0d0" stroke-width="1" stroke-dasharray="1.1,1.0"/>
<line x1="329.50" y1="352.50" x2="542.20" y2="352.50" stroke="#ededed" stroke-width="1"/>
<line x1="329.50" y1="342.50" x2="542.20" y2="342.50" stroke="#d0d0d0" stroke-width="1" stroke-dasharray="1.1,1.0"/>
<line x1="329.50" y1="332.50" x2="542.20" y2="332.50" stroke="#ededed" stroke-width="1"/>
<line x1="329.50" y1="322.50" x2="542.20" y2="322.50" stroke="#d0d0d0" stroke-width="1" stroke-dasharray="1.1,1.0"/>
<line x1="329.50" y1="312.50" x2="542.20" y2="312.50" stroke="#ededed" stroke-width="1"/>
<line x1="329.50" y1="302.50" x2="542.20" y2="302.50" stroke="#d0d0d0" stroke-width="1" stroke-dasharray="1.1,1.0"/>
<line x1="329.50" y1="292.50" x2="542.20" y2="292.50" stroke="#ededed" stroke-width="1"/>
<line x1="329.50" y1="282.50" x2="542.20" y2="282.50" stroke="#d0d0d0" stroke-width="1" stroke-dasharray="1.1,1.0"/>
<line x1="329.50" y1="271.50" x2="542.20" y2="271.50" stroke="#ededed" stroke-width="1"/>
<line x1="329.50" y1="261.50" x2="542.20" y2="261.50" stroke="#d0d0d0" stroke-width="1" stroke-dasharray="1.1,1.0"/>
<line x1="329.50" y1="251.50" x2="542.20" y2="251.50" stroke="#ededed" stroke-width="1"/>
<line x1="329.50" y1="241.50" x2="542.20" y2="241.50" stroke="#d0d0d0" stroke-width="1" stroke-dasharray="1.1,1.0"/>
<line x1="329.50" y1="231.50" x2="542.20" y2="231.50" stroke="#ededed" stroke-width="1"/>
<line x1="329.50" y1="221.50" x2="542.20" y2="221.50" stroke="#d0d0d0" stroke-width="1" stroke-dasharray="1.1,1.0"/>
<line x1="327.50" y1="221.00" x2="327.50" y2="384.00" stroke="#6a6a6a" stroke-width="1.0"/>
<line x1="325.00" y1="383.50" x2="330.00" y2="383.50" stroke="#6a6a6a" stroke-width="1"/>
<text x="320.70" y="385.20" text-anchor="end" class="tk" textLength="3.25" lengthAdjust="spacingAndGlyphs">0</text>
<line x1="327.50" y1="372.50" x2="330.00" y2="372.50" stroke="#7a7a7a" stroke-width="1"/>
<line x1="325.00" y1="362.50" x2="330.00" y2="362.50" stroke="#6a6a6a" stroke-width="1"/>
<text x="320.70" y="365.00" text-anchor="end" class="tk" textLength="6.51" lengthAdjust="spacingAndGlyphs">50</text>
<line x1="327.50" y1="352.50" x2="330.00" y2="352.50" stroke="#7a7a7a" stroke-width="1"/>
<line x1="325.00" y1="342.50" x2="330.00" y2="342.50" stroke="#6a6a6a" stroke-width="1"/>
<text x="320.70" y="344.80" text-anchor="end" class="tk" textLength="9.76" lengthAdjust="spacingAndGlyphs">100</text>
<line x1="327.50" y1="332.50" x2="330.00" y2="332.50" stroke="#7a7a7a" stroke-width="1"/>
<line x1="325.00" y1="322.50" x2="330.00" y2="322.50" stroke="#6a6a6a" stroke-width="1"/>
<text x="320.70" y="324.60" text-anchor="end" class="tk" textLength="9.76" lengthAdjust="spacingAndGlyphs">150</text>
<line x1="327.50" y1="312.50" x2="330.00" y2="312.50" stroke="#7a7a7a" stroke-width="1"/>
<line x1="325.00" y1="302.50" x2="330.00" y2="302.50" stroke="#6a6a6a" stroke-width="1"/>
<text x="320.70" y="304.40" text-anchor="end" class="tk" textLength="9.76" lengthAdjust="spacingAndGlyphs">200</text>
<line x1="327.50" y1="292.50" x2="330.00" y2="292.50" stroke="#7a7a7a" stroke-width="1"/>
<line x1="325.00" y1="282.50" x2="330.00" y2="282.50" stroke="#6a6a6a" stroke-width="1"/>
<text x="320.70" y="284.20" text-anchor="end" class="tk" textLength="9.76" lengthAdjust="spacingAndGlyphs">250</text>
<line x1="327.50" y1="271.50" x2="330.00" y2="271.50" stroke="#7a7a7a" stroke-width="1"/>
<line x1="325.00" y1="261.50" x2="330.00" y2="261.50" stroke="#6a6a6a" stroke-width="1"/>
<text x="320.70" y="264.00" text-anchor="end" class="tk" textLength="9.76" lengthAdjust="spacingAndGlyphs">300</text>
<line x1="327.50" y1="251.50" x2="330.00" y2="251.50" stroke="#7a7a7a" stroke-width="1"/>
<line x1="325.00" y1="241.50" x2="330.00" y2="241.50" stroke="#6a6a6a" stroke-width="1"/>
<text x="320.70" y="243.80" text-anchor="end" class="tk" textLength="9.76" lengthAdjust="spacingAndGlyphs">350</text>
<line x1="327.50" y1="231.50" x2="330.00" y2="231.50" stroke="#7a7a7a" stroke-width="1"/>
<line x1="325.00" y1="221.50" x2="330.00" y2="221.50" stroke="#6a6a6a" stroke-width="1"/>
<text x="320.70" y="223.60" text-anchor="end" class="tk" textLength="9.76" lengthAdjust="spacingAndGlyphs">400</text>
<line x1="327.50" y1="383.50" x2="541.70" y2="383.50" stroke="#6a6a6a" stroke-width="1.0"/>
<line x1="327.50" y1="381.50" x2="327.50" y2="386.00" stroke="#6a6a6a" stroke-width="1"/>
<text x="327.70" y="394.60" text-anchor="middle" class="tk" textLength="4.22" lengthAdjust="spacingAndGlyphs">A</text>
<line x1="363.50" y1="381.50" x2="363.50" y2="386.00" stroke="#6a6a6a" stroke-width="1"/>
<text x="363.28" y="394.60" text-anchor="middle" class="tk" textLength="4.22" lengthAdjust="spacingAndGlyphs">B</text>
<line x1="398.50" y1="381.50" x2="398.50" y2="386.00" stroke="#6a6a6a" stroke-width="1"/>
<text x="398.87" y="394.60" text-anchor="middle" class="tk" textLength="4.22" lengthAdjust="spacingAndGlyphs">C</text>
<line x1="434.50" y1="381.50" x2="434.50" y2="386.00" stroke="#6a6a6a" stroke-width="1"/>
<text x="434.45" y="394.60" text-anchor="middle" class="tk" textLength="12.35" lengthAdjust="spacingAndGlyphs">NHS</text>
<line x1="470.50" y1="381.50" x2="470.50" y2="386.00" stroke="#6a6a6a" stroke-width="1"/>
<text x="470.03" y="394.60" text-anchor="middle" class="tk" textLength="11.05" lengthAdjust="spacingAndGlyphs">DT5</text>
<line x1="505.50" y1="381.50" x2="505.50" y2="386.00" stroke="#6a6a6a" stroke-width="1"/>
<text x="505.62" y="394.60" text-anchor="middle" class="tk" textLength="11.05" lengthAdjust="spacingAndGlyphs">DT3</text>
<line x1="541.50" y1="381.50" x2="541.50" y2="386.00" stroke="#6a6a6a" stroke-width="1"/>
<text x="541.20" y="394.60" text-anchor="middle" class="tk" textLength="11.05" lengthAdjust="spacingAndGlyphs">DT1</text>
<text x="445.00" y="409.20" class="axt" textLength="62.70" lengthAdjust="spacingAndGlyphs">HVAC operation type</text>
<g transform="translate(305.00,347.90) rotate(-90)"><text x="0" y="0" class="yt" textLength="64.60" lengthAdjust="spacingAndGlyphs">Cooling energy needs</text><text x="69.26" y="0" class="yt" textLength="24.14" lengthAdjust="spacingAndGlyphs">[kWh m</text><text x="95.15" y="-2.4" class="yt" style="font-size:4.2px" textLength="2.80" lengthAdjust="spacingAndGlyphs">-2</text><text x="99.81" y="0" class="yt" textLength="10.26" lengthAdjust="spacingAndGlyphs">year</text><text x="110.77" y="-2.4" class="yt" style="font-size:4.2px" textLength="2.80" lengthAdjust="spacingAndGlyphs">-1</text><text x="114.15" y="0" class="yt" textLength="2.80" lengthAdjust="spacingAndGlyphs">]</text></g>
<polyline points="327.70,311.09 363.28,323.61 398.87,334.12 434.45,383.00 470.03,352.30 505.62,346.64 541.20,338.56" fill="none" stroke="#e23a36" stroke-width="1.05" stroke-dasharray="2.2,1.5"/>
<polyline points="327.70,322.80 363.28,332.90 398.87,342.60 434.45,383.00 470.03,350.28 505.62,342.20 541.20,333.71" fill="none" stroke="#e23a36" stroke-width="1.05"/>
<polyline points="327.70,324.02 363.28,337.35 398.87,349.06 434.45,383.00 470.03,358.76 505.62,353.91 541.20,347.85" fill="none" stroke="#3030f2" stroke-width="1.05" stroke-dasharray="2.2,1.5"/>
<polyline points="327.70,334.12 363.28,345.02 398.87,354.72 434.45,383.00 470.03,355.93 505.62,350.28 541.20,343.81" fill="none" stroke="#3030f2" stroke-width="1.05"/>
<polyline points="327.70,340.98 363.28,351.49 398.87,360.78 434.45,383.00 470.03,367.65 505.62,362.80 541.20,356.74" fill="none" stroke="#32843a" stroke-width="1.05" stroke-dasharray="2.2,1.5"/>
<polyline points="327.70,347.85 363.28,356.74 398.87,364.42 434.45,383.00 470.03,366.03 505.62,360.38 541.20,353.91" fill="none" stroke="#32843a" stroke-width="1.05"/>
<path d="M327.70,308.94L329.65,312.55L325.75,312.55Z" fill="#fff" stroke="#d81818" stroke-width="1.0"/>
<path d="M363.28,321.47L365.23,325.07L361.33,325.07Z" fill="#fff" stroke="#d81818" stroke-width="1.0"/>
<path d="M398.87,331.97L400.82,335.58L396.92,335.58Z" fill="#fff" stroke="#d81818" stroke-width="1.0"/>
<path d="M434.45,380.86L436.40,384.46L432.50,384.46Z" fill="#fff" stroke="#d81818" stroke-width="1.0"/>
<path d="M470.03,350.15L471.98,353.76L468.08,353.76Z" fill="#fff" stroke="#d81818" stroke-width="1.0"/>
<path d="M505.62,344.50L507.57,348.10L503.67,348.10Z" fill="#fff" stroke="#d81818" stroke-width="1.0"/>
<path d="M541.20,336.42L543.15,340.02L539.25,340.02Z" fill="#fff" stroke="#d81818" stroke-width="1.0"/>
<path d="M327.70,320.66L329.65,324.27L325.75,324.27Z" fill="#fff" stroke="#d81818" stroke-width="1.0"/>
<path d="M363.28,330.76L365.23,334.37L361.33,334.37Z" fill="#fff" stroke="#d81818" stroke-width="1.0"/>
<path d="M398.87,340.46L400.82,344.06L396.92,344.06Z" fill="#fff" stroke="#d81818" stroke-width="1.0"/>
<path d="M434.45,380.86L436.40,384.46L432.50,384.46Z" fill="#fff" stroke="#d81818" stroke-width="1.0"/>
<path d="M470.03,348.13L471.98,351.74L468.08,351.74Z" fill="#fff" stroke="#d81818" stroke-width="1.0"/>
<path d="M505.62,340.05L507.57,343.66L503.67,343.66Z" fill="#fff" stroke="#d81818" stroke-width="1.0"/>
<path d="M541.20,331.57L543.15,335.17L539.25,335.17Z" fill="#fff" stroke="#d81818" stroke-width="1.0"/>
<rect x="326.15" y="322.47" width="3.10" height="3.10" fill="#fff" stroke="#1414f0" stroke-width="1.0"/>
<rect x="361.73" y="335.80" width="3.10" height="3.10" fill="#fff" stroke="#1414f0" stroke-width="1.0"/>
<rect x="397.32" y="347.51" width="3.10" height="3.10" fill="#fff" stroke="#1414f0" stroke-width="1.0"/>
<rect x="432.90" y="381.45" width="3.10" height="3.10" fill="#fff" stroke="#1414f0" stroke-width="1.0"/>
<rect x="468.48" y="357.21" width="3.10" height="3.10" fill="#fff" stroke="#1414f0" stroke-width="1.0"/>
<rect x="504.07" y="352.36" width="3.10" height="3.10" fill="#fff" stroke="#1414f0" stroke-width="1.0"/>
<rect x="539.65" y="346.30" width="3.10" height="3.10" fill="#fff" stroke="#1414f0" stroke-width="1.0"/>
<rect x="326.15" y="332.57" width="3.10" height="3.10" fill="#fff" stroke="#1414f0" stroke-width="1.0"/>
<rect x="361.73" y="343.47" width="3.10" height="3.10" fill="#fff" stroke="#1414f0" stroke-width="1.0"/>
<rect x="397.32" y="353.17" width="3.10" height="3.10" fill="#fff" stroke="#1414f0" stroke-width="1.0"/>
<rect x="432.90" y="381.45" width="3.10" height="3.10" fill="#fff" stroke="#1414f0" stroke-width="1.0"/>
<rect x="468.48" y="354.38" width="3.10" height="3.10" fill="#fff" stroke="#1414f0" stroke-width="1.0"/>
<rect x="504.07" y="348.73" width="3.10" height="3.10" fill="#fff" stroke="#1414f0" stroke-width="1.0"/>
<rect x="539.65" y="342.26" width="3.10" height="3.10" fill="#fff" stroke="#1414f0" stroke-width="1.0"/>
<circle cx="327.70" cy="340.98" r="1.60" fill="#fff" stroke="#146414" stroke-width="1.0"/>
<circle cx="363.28" cy="351.49" r="1.60" fill="#fff" stroke="#146414" stroke-width="1.0"/>
<circle cx="398.87" cy="360.78" r="1.60" fill="#fff" stroke="#146414" stroke-width="1.0"/>
<circle cx="434.45" cy="383.00" r="1.60" fill="#fff" stroke="#146414" stroke-width="1.0"/>
<circle cx="470.03" cy="367.65" r="1.60" fill="#fff" stroke="#146414" stroke-width="1.0"/>
<circle cx="505.62" cy="362.80" r="1.60" fill="#fff" stroke="#146414" stroke-width="1.0"/>
<circle cx="541.20" cy="356.74" r="1.60" fill="#fff" stroke="#146414" stroke-width="1.0"/>
<circle cx="327.70" cy="347.85" r="1.60" fill="#fff" stroke="#146414" stroke-width="1.0"/>
<circle cx="363.28" cy="356.74" r="1.60" fill="#fff" stroke="#146414" stroke-width="1.0"/>
<circle cx="398.87" cy="364.42" r="1.60" fill="#fff" stroke="#146414" stroke-width="1.0"/>
<circle cx="434.45" cy="383.00" r="1.60" fill="#fff" stroke="#146414" stroke-width="1.0"/>
<circle cx="470.03" cy="366.03" r="1.60" fill="#fff" stroke="#146414" stroke-width="1.0"/>
<circle cx="505.62" cy="360.38" r="1.60" fill="#fff" stroke="#146414" stroke-width="1.0"/>
<circle cx="541.20" cy="353.91" r="1.60" fill="#fff" stroke="#146414" stroke-width="1.0"/>
<rect x="343.80" y="228.90" width="59.70" height="8" fill="#fff"/>
<text x="345.30" y="234.90" class="lab" textLength="56.70" lengthAdjust="spacingAndGlyphs">MC2 - Bank branch</text>
<rect x="429.00" y="225.60" width="73.60" height="62.20" fill="#fff" stroke="#e4e4e4" stroke-width="0.7"/>
<path d="M432.80,231.00H435.00M438.10,231.00H440.90M444.00,231.00H446.20" stroke="#e23a36" stroke-width="1.05"/>
<path d="M439.50,228.75L441.55,232.54L437.45,232.54Z" fill="#fff" stroke="#d81818" stroke-width="1.0"/>
<text x="449.10" y="233.00" class="lg" textLength="42.67" lengthAdjust="spacingAndGlyphs">C: HRS, no TIoGS</text>
<line x1="432.80" y1="241.20" x2="446.20" y2="241.20" stroke="#e23a36" stroke-width="1.05"/>
<path d="M439.50,238.95L441.55,242.74L437.45,242.74Z" fill="#fff" stroke="#d81818" stroke-width="1.0"/>
<text x="449.10" y="243.20" class="lg" textLength="46.71" lengthAdjust="spacingAndGlyphs">C: HRS, with TI&amp;GS</text>
<path d="M432.80,251.80H435.00M438.10,251.80H440.90M444.00,251.80H446.20" stroke="#3030f2" stroke-width="1.05"/>
<rect x="437.87" y="250.17" width="3.26" height="3.26" fill="#fff" stroke="#1414f0" stroke-width="1.0"/>
<text x="449.10" y="253.80" class="lg" textLength="43.25" lengthAdjust="spacingAndGlyphs">C: MRS, no TIoGS</text>
<line x1="432.80" y1="262.50" x2="446.20" y2="262.50" stroke="#3030f2" stroke-width="1.05"/>
<rect x="437.87" y="260.87" width="3.26" height="3.26" fill="#fff" stroke="#1414f0" stroke-width="1.0"/>
<text x="449.10" y="264.50" class="lg" textLength="47.29" lengthAdjust="spacingAndGlyphs">C: MRS, with TI&amp;GS</text>
<path d="M432.80,272.80H435.00M438.10,272.80H440.90M444.00,272.80H446.20" stroke="#32843a" stroke-width="1.05"/>
<circle cx="439.50" cy="272.80" r="1.68" fill="#fff" stroke="#146414" stroke-width="1.0"/>
<text x="449.10" y="274.80" class="lg" textLength="42.96" lengthAdjust="spacingAndGlyphs">C: NCC, no TIoGS</text>
<line x1="432.80" y1="282.90" x2="446.20" y2="282.90" stroke="#32843a" stroke-width="1.05"/>
<circle cx="439.50" cy="282.90" r="1.68" fill="#fff" stroke="#146414" stroke-width="1.0"/>
<text x="449.10" y="284.90" class="lg" textLength="47.00" lengthAdjust="spacingAndGlyphs">C: NCC, with TI&amp;GS</text>
<line x1="35.50" y1="573.50" x2="247.50" y2="573.50" stroke="#ededed" stroke-width="1"/>
<line x1="35.50" y1="563.50" x2="247.50" y2="563.50" stroke="#d0d0d0" stroke-width="1" stroke-dasharray="1.1,1.0"/>
<line x1="35.50" y1="553.50" x2="247.50" y2="553.50" stroke="#ededed" stroke-width="1"/>
<line x1="35.50" y1="543.50" x2="247.50" y2="543.50" stroke="#d0d0d0" stroke-width="1" stroke-dasharray="1.1,1.0"/>
<line x1="35.50" y1="533.50" x2="247.50" y2="533.50" stroke="#ededed" stroke-width="1"/>
<line x1="35.50" y1="523.50" x2="247.50" y2="523.50" stroke="#d0d0d0" stroke-width="1" stroke-dasharray="1.1,1.0"/>
<line x1="35.50" y1="513.50" x2="247.50" y2="513.50" stroke="#ededed" stroke-width="1"/>
<line x1="35.50" y1="503.50" x2="247.50" y2="503.50" stroke="#d0d0d0" stroke-width="1" stroke-dasharray="1.1,1.0"/>
<line x1="35.50" y1="493.50" x2="247.50" y2="493.50" stroke="#ededed" stroke-width="1"/>
<line x1="35.50" y1="483.50" x2="247.50" y2="483.50" stroke="#d0d0d0" stroke-width="1" stroke-dasharray="1.1,1.0"/>
<line x1="35.50" y1="473.50" x2="247.50" y2="473.50" stroke="#ededed" stroke-width="1"/>
<line x1="35.50" y1="463.50" x2="247.50" y2="463.50" stroke="#d0d0d0" stroke-width="1" stroke-dasharray="1.1,1.0"/>
<line x1="35.50" y1="453.50" x2="247.50" y2="453.50" stroke="#ededed" stroke-width="1"/>
<line x1="35.50" y1="443.50" x2="247.50" y2="443.50" stroke="#d0d0d0" stroke-width="1" stroke-dasharray="1.1,1.0"/>
<line x1="35.50" y1="433.50" x2="247.50" y2="433.50" stroke="#ededed" stroke-width="1"/>
<line x1="35.50" y1="423.50" x2="247.50" y2="423.50" stroke="#d0d0d0" stroke-width="1" stroke-dasharray="1.1,1.0"/>
<line x1="33.50" y1="423.00" x2="33.50" y2="585.00" stroke="#6a6a6a" stroke-width="1.0"/>
<line x1="31.00" y1="584.50" x2="36.00" y2="584.50" stroke="#6a6a6a" stroke-width="1"/>
<text x="27.00" y="586.20" text-anchor="end" class="tk" textLength="3.25" lengthAdjust="spacingAndGlyphs">0</text>
<line x1="33.50" y1="573.50" x2="36.00" y2="573.50" stroke="#7a7a7a" stroke-width="1"/>
<line x1="31.00" y1="563.50" x2="36.00" y2="563.50" stroke="#6a6a6a" stroke-width="1"/>
<text x="27.00" y="566.11" text-anchor="end" class="tk" textLength="6.51" lengthAdjust="spacingAndGlyphs">50</text>
<line x1="33.50" y1="553.50" x2="36.00" y2="553.50" stroke="#7a7a7a" stroke-width="1"/>
<line x1="31.00" y1="543.50" x2="36.00" y2="543.50" stroke="#6a6a6a" stroke-width="1"/>
<text x="27.00" y="546.03" text-anchor="end" class="tk" textLength="9.76" lengthAdjust="spacingAndGlyphs">100</text>
<line x1="33.50" y1="533.50" x2="36.00" y2="533.50" stroke="#7a7a7a" stroke-width="1"/>
<line x1="31.00" y1="523.50" x2="36.00" y2="523.50" stroke="#6a6a6a" stroke-width="1"/>
<text x="27.00" y="525.94" text-anchor="end" class="tk" textLength="9.76" lengthAdjust="spacingAndGlyphs">150</text>
<line x1="33.50" y1="513.50" x2="36.00" y2="513.50" stroke="#7a7a7a" stroke-width="1"/>
<line x1="31.00" y1="503.50" x2="36.00" y2="503.50" stroke="#6a6a6a" stroke-width="1"/>
<text x="27.00" y="505.85" text-anchor="end" class="tk" textLength="9.76" lengthAdjust="spacingAndGlyphs">200</text>
<line x1="33.50" y1="493.50" x2="36.00" y2="493.50" stroke="#7a7a7a" stroke-width="1"/>
<line x1="31.00" y1="483.50" x2="36.00" y2="483.50" stroke="#6a6a6a" stroke-width="1"/>
<text x="27.00" y="485.76" text-anchor="end" class="tk" textLength="9.76" lengthAdjust="spacingAndGlyphs">250</text>
<line x1="33.50" y1="473.50" x2="36.00" y2="473.50" stroke="#7a7a7a" stroke-width="1"/>
<line x1="31.00" y1="463.50" x2="36.00" y2="463.50" stroke="#6a6a6a" stroke-width="1"/>
<text x="27.00" y="465.68" text-anchor="end" class="tk" textLength="9.76" lengthAdjust="spacingAndGlyphs">300</text>
<line x1="33.50" y1="453.50" x2="36.00" y2="453.50" stroke="#7a7a7a" stroke-width="1"/>
<line x1="31.00" y1="443.50" x2="36.00" y2="443.50" stroke="#6a6a6a" stroke-width="1"/>
<text x="27.00" y="445.59" text-anchor="end" class="tk" textLength="9.76" lengthAdjust="spacingAndGlyphs">350</text>
<line x1="33.50" y1="433.50" x2="36.00" y2="433.50" stroke="#7a7a7a" stroke-width="1"/>
<line x1="31.00" y1="423.50" x2="36.00" y2="423.50" stroke="#6a6a6a" stroke-width="1"/>
<text x="27.00" y="425.50" text-anchor="end" class="tk" textLength="9.76" lengthAdjust="spacingAndGlyphs">400</text>
<line x1="33.50" y1="584.50" x2="247.00" y2="584.50" stroke="#6a6a6a" stroke-width="1.0"/>
<line x1="33.50" y1="582.50" x2="33.50" y2="587.00" stroke="#6a6a6a" stroke-width="1"/>
<text x="33.80" y="595.60" text-anchor="middle" class="tk" textLength="4.22" lengthAdjust="spacingAndGlyphs">A</text>
<line x1="69.50" y1="582.50" x2="69.50" y2="587.00" stroke="#6a6a6a" stroke-width="1"/>
<text x="69.25" y="595.60" text-anchor="middle" class="tk" textLength="4.22" lengthAdjust="spacingAndGlyphs">B</text>
<line x1="104.50" y1="582.50" x2="104.50" y2="587.00" stroke="#6a6a6a" stroke-width="1"/>
<text x="104.70" y="595.60" text-anchor="middle" class="tk" textLength="4.22" lengthAdjust="spacingAndGlyphs">C</text>
<line x1="140.50" y1="582.50" x2="140.50" y2="587.00" stroke="#6a6a6a" stroke-width="1"/>
<text x="140.15" y="595.60" text-anchor="middle" class="tk" textLength="12.35" lengthAdjust="spacingAndGlyphs">NHS</text>
<line x1="175.50" y1="582.50" x2="175.50" y2="587.00" stroke="#6a6a6a" stroke-width="1"/>
<text x="175.60" y="595.60" text-anchor="middle" class="tk" textLength="11.05" lengthAdjust="spacingAndGlyphs">DT5</text>
<line x1="211.50" y1="582.50" x2="211.50" y2="587.00" stroke="#6a6a6a" stroke-width="1"/>
<text x="211.05" y="595.60" text-anchor="middle" class="tk" textLength="11.05" lengthAdjust="spacingAndGlyphs">DT3</text>
<line x1="246.50" y1="582.50" x2="246.50" y2="587.00" stroke="#6a6a6a" stroke-width="1"/>
<text x="246.50" y="595.60" text-anchor="middle" class="tk" textLength="11.05" lengthAdjust="spacingAndGlyphs">DT1</text>
<text x="150.60" y="610.00" class="axt" textLength="62.20" lengthAdjust="spacingAndGlyphs">HVAC operation type</text>
<g transform="translate(11.70,549.90) rotate(-90)"><text x="0" y="0" class="yt" textLength="64.76" lengthAdjust="spacingAndGlyphs">Heating energy needs</text><text x="69.44" y="0" class="yt" textLength="24.20" lengthAdjust="spacingAndGlyphs">[kWh m</text><text x="95.39" y="-2.4" class="yt" style="font-size:4.2px" textLength="2.81" lengthAdjust="spacingAndGlyphs">-2</text><text x="100.07" y="0" class="yt" textLength="10.29" lengthAdjust="spacingAndGlyphs">year</text><text x="111.05" y="-2.4" class="yt" style="font-size:4.2px" textLength="2.81" lengthAdjust="spacingAndGlyphs">-1</text><text x="114.45" y="0" class="yt" textLength="2.81" lengthAdjust="spacingAndGlyphs">]</text></g>
<polyline points="33.80,583.60 69.25,583.80 104.70,584.00 140.15,584.00 175.60,568.33 211.05,561.90 246.50,555.07" fill="none" stroke="#e23a36" stroke-width="1.05" stroke-dasharray="2.2,1.5"/>
<polyline points="33.80,583.80 69.25,584.00 104.70,584.00 140.15,584.00 175.60,582.79 211.05,580.79 246.50,577.97" fill="none" stroke="#e23a36" stroke-width="1.05"/>
<polyline points="33.80,581.99 69.25,583.20 104.70,583.60 140.15,584.00 175.60,560.70 211.05,553.07 246.50,545.03" fill="none" stroke="#3030f2" stroke-width="1.05" stroke-dasharray="2.2,1.5"/>
<polyline points="33.80,582.39 69.25,583.60 104.70,583.80 140.15,584.00 175.60,579.18 211.05,576.17 246.50,572.35" fill="none" stroke="#3030f2" stroke-width="1.05"/>
<polyline points="33.80,578.78 69.25,581.59 104.70,583.20 140.15,584.00 175.60,551.46 211.05,543.42 246.50,534.18" fill="none" stroke="#32843a" stroke-width="1.05" stroke-dasharray="2.2,1.5"/>
<polyline points="33.80,578.54 69.25,581.59 104.70,583.20 140.15,584.00 175.60,575.72 211.05,573.35 246.50,569.14" fill="none" stroke="#32843a" stroke-width="1.05"/>
<path d="M33.80,581.60L35.80,585.10L31.80,585.10Z" fill="#d81818"/>
<path d="M69.25,581.80L71.25,585.30L67.25,585.30Z" fill="#d81818"/>
<path d="M104.70,582.00L106.70,585.50L102.70,585.50Z" fill="#d81818"/>
<path d="M140.15,582.00L142.15,585.50L138.15,585.50Z" fill="#d81818"/>
<path d="M175.60,566.33L177.60,569.83L173.60,569.83Z" fill="#d81818"/>
<path d="M211.05,559.90L213.05,563.40L209.05,563.40Z" fill="#d81818"/>
<path d="M246.50,553.07L248.50,556.57L244.50,556.57Z" fill="#d81818"/>
<path d="M33.80,581.80L35.80,585.30L31.80,585.30Z" fill="#d81818"/>
<path d="M69.25,582.00L71.25,585.50L67.25,585.50Z" fill="#d81818"/>
<path d="M104.70,582.00L106.70,585.50L102.70,585.50Z" fill="#d81818"/>
<path d="M140.15,582.00L142.15,585.50L138.15,585.50Z" fill="#d81818"/>
<path d="M175.60,580.79L177.60,584.29L173.60,584.29Z" fill="#d81818"/>
<path d="M211.05,578.79L213.05,582.29L209.05,582.29Z" fill="#d81818"/>
<path d="M246.50,575.97L248.50,579.47L244.50,579.47Z" fill="#d81818"/>
<rect x="32.05" y="580.24" width="3.50" height="3.50" fill="#1414f0"/>
<rect x="67.50" y="581.45" width="3.50" height="3.50" fill="#1414f0"/>
<rect x="102.95" y="581.85" width="3.50" height="3.50" fill="#1414f0"/>
<rect x="138.40" y="582.25" width="3.50" height="3.50" fill="#1414f0"/>
<rect x="173.85" y="558.95" width="3.50" height="3.50" fill="#1414f0"/>
<rect x="209.30" y="551.32" width="3.50" height="3.50" fill="#1414f0"/>
<rect x="244.75" y="543.28" width="3.50" height="3.50" fill="#1414f0"/>
<rect x="32.05" y="580.64" width="3.50" height="3.50" fill="#1414f0"/>
<rect x="67.50" y="581.85" width="3.50" height="3.50" fill="#1414f0"/>
<rect x="102.95" y="582.05" width="3.50" height="3.50" fill="#1414f0"/>
<rect x="138.40" y="582.25" width="3.50" height="3.50" fill="#1414f0"/>
<rect x="173.85" y="577.43" width="3.50" height="3.50" fill="#1414f0"/>
<rect x="209.30" y="574.42" width="3.50" height="3.50" fill="#1414f0"/>
<rect x="244.75" y="570.60" width="3.50" height="3.50" fill="#1414f0"/>
<circle cx="33.80" cy="578.78" r="1.80" fill="#146414"/>
<circle cx="69.25" cy="581.59" r="1.80" fill="#146414"/>
<circle cx="104.70" cy="583.20" r="1.80" fill="#146414"/>
<circle cx="140.15" cy="584.00" r="1.80" fill="#146414"/>
<circle cx="175.60" cy="551.46" r="1.80" fill="#146414"/>
<circle cx="211.05" cy="543.42" r="1.80" fill="#146414"/>
<circle cx="246.50" cy="534.18" r="1.80" fill="#146414"/>
<circle cx="33.80" cy="578.54" r="1.80" fill="#146414"/>
<circle cx="69.25" cy="581.59" r="1.80" fill="#146414"/>
<circle cx="104.70" cy="583.20" r="1.80" fill="#146414"/>
<circle cx="140.15" cy="584.00" r="1.80" fill="#146414"/>
<circle cx="175.60" cy="575.72" r="1.80" fill="#146414"/>
<circle cx="211.05" cy="573.35" r="1.80" fill="#146414"/>
<circle cx="246.50" cy="569.14" r="1.80" fill="#146414"/>
<rect x="46.50" y="430.30" width="61.20" height="8" fill="#fff"/>
<text x="48.00" y="436.30" class="lab" textLength="58.20" lengthAdjust="spacingAndGlyphs">MC2 - Supermarket</text>
<rect x="140.50" y="427.40" width="72.10" height="63.00" fill="#fff" stroke="#e4e4e4" stroke-width="0.7"/>
<path d="M144.60,433.10H146.80M150.20,433.10H153.00M156.40,433.10H158.60" stroke="#e23a36" stroke-width="1.05"/>
<path d="M151.60,431.00L153.70,434.68L149.50,434.68Z" fill="#d81818"/>
<text x="161.80" y="435.10" class="lg" textLength="42.67" lengthAdjust="spacingAndGlyphs">H: HRS, no TIoGS</text>
<line x1="144.60" y1="443.70" x2="158.60" y2="443.70" stroke="#e23a36" stroke-width="1.05"/>
<path d="M151.60,441.60L153.70,445.27L149.50,445.27Z" fill="#d81818"/>
<text x="161.80" y="445.70" class="lg" textLength="46.71" lengthAdjust="spacingAndGlyphs">H: HRS, with TI&amp;GS</text>
<path d="M144.60,454.40H146.80M150.20,454.40H153.00M156.40,454.40H158.60" stroke="#3030f2" stroke-width="1.05"/>
<rect x="149.76" y="452.56" width="3.68" height="3.68" fill="#1414f0"/>
<text x="161.80" y="456.40" class="lg" textLength="43.25" lengthAdjust="spacingAndGlyphs">H: MRS, no TIoGS</text>
<line x1="144.60" y1="464.20" x2="158.60" y2="464.20" stroke="#3030f2" stroke-width="1.05"/>
<rect x="149.76" y="462.36" width="3.68" height="3.68" fill="#1414f0"/>
<text x="161.80" y="466.20" class="lg" textLength="47.29" lengthAdjust="spacingAndGlyphs">H: MRS, with TI&amp;GS</text>
<path d="M144.60,474.80H146.80M150.20,474.80H153.00M156.40,474.80H158.60" stroke="#32843a" stroke-width="1.05"/>
<circle cx="151.60" cy="474.80" r="1.89" fill="#146414"/>
<text x="161.80" y="476.80" class="lg" textLength="42.96" lengthAdjust="spacingAndGlyphs">H: NCC, no TIoGS</text>
<line x1="144.60" y1="485.50" x2="158.60" y2="485.50" stroke="#32843a" stroke-width="1.05"/>
<circle cx="151.60" cy="485.50" r="1.89" fill="#146414"/>
<text x="161.80" y="487.50" class="lg" textLength="47.00" lengthAdjust="spacingAndGlyphs">H: NCC, with TI&amp;GS</text>
<line x1="330.50" y1="574.50" x2="541.80" y2="574.50" stroke="#ededed" stroke-width="1"/>
<line x1="330.50" y1="564.50" x2="541.80" y2="564.50" stroke="#d0d0d0" stroke-width="1" stroke-dasharray="1.1,1.0"/>
<line x1="330.50" y1="553.50" x2="541.80" y2="553.50" stroke="#ededed" stroke-width="1"/>
<line x1="330.50" y1="543.50" x2="541.80" y2="543.50" stroke="#d0d0d0" stroke-width="1" stroke-dasharray="1.1,1.0"/>
<line x1="330.50" y1="533.50" x2="541.80" y2="533.50" stroke="#ededed" stroke-width="1"/>
<line x1="330.50" y1="523.50" x2="541.80" y2="523.50" stroke="#d0d0d0" stroke-width="1" stroke-dasharray="1.1,1.0"/>
<line x1="330.50" y1="513.50" x2="541.80" y2="513.50" stroke="#ededed" stroke-width="1"/>
<line x1="330.50" y1="503.50" x2="541.80" y2="503.50" stroke="#d0d0d0" stroke-width="1" stroke-dasharray="1.1,1.0"/>
<line x1="330.50" y1="493.50" x2="541.80" y2="493.50" stroke="#ededed" stroke-width="1"/>
<line x1="330.50" y1="483.50" x2="541.80" y2="483.50" stroke="#d0d0d0" stroke-width="1" stroke-dasharray="1.1,1.0"/>
<line x1="330.50" y1="473.50" x2="541.80" y2="473.50" stroke="#ededed" stroke-width="1"/>
<line x1="330.50" y1="463.50" x2="541.80" y2="463.50" stroke="#d0d0d0" stroke-width="1" stroke-dasharray="1.1,1.0"/>
<line x1="330.50" y1="453.50" x2="541.80" y2="453.50" stroke="#ededed" stroke-width="1"/>
<line x1="330.50" y1="443.50" x2="541.80" y2="443.50" stroke="#d0d0d0" stroke-width="1" stroke-dasharray="1.1,1.0"/>
<line x1="330.50" y1="433.50" x2="541.80" y2="433.50" stroke="#ededed" stroke-width="1"/>
<line x1="330.50" y1="423.50" x2="541.80" y2="423.50" stroke="#d0d0d0" stroke-width="1" stroke-dasharray="1.1,1.0"/>
<line x1="328.50" y1="423.00" x2="328.50" y2="585.00" stroke="#6a6a6a" stroke-width="1.0"/>
<line x1="326.00" y1="584.50" x2="331.00" y2="584.50" stroke="#6a6a6a" stroke-width="1"/>
<text x="322.00" y="586.30" text-anchor="end" class="tk" textLength="3.25" lengthAdjust="spacingAndGlyphs">0</text>
<line x1="328.50" y1="574.50" x2="331.00" y2="574.50" stroke="#7a7a7a" stroke-width="1"/>
<line x1="326.00" y1="564.50" x2="331.00" y2="564.50" stroke="#6a6a6a" stroke-width="1"/>
<text x="322.00" y="566.21" text-anchor="end" class="tk" textLength="6.51" lengthAdjust="spacingAndGlyphs">50</text>
<line x1="328.50" y1="553.50" x2="331.00" y2="553.50" stroke="#7a7a7a" stroke-width="1"/>
<line x1="326.00" y1="543.50" x2="331.00" y2="543.50" stroke="#6a6a6a" stroke-width="1"/>
<text x="322.00" y="546.12" text-anchor="end" class="tk" textLength="9.76" lengthAdjust="spacingAndGlyphs">100</text>
<line x1="328.50" y1="533.50" x2="331.00" y2="533.50" stroke="#7a7a7a" stroke-width="1"/>
<line x1="326.00" y1="523.50" x2="331.00" y2="523.50" stroke="#6a6a6a" stroke-width="1"/>
<text x="322.00" y="526.04" text-anchor="end" class="tk" textLength="9.76" lengthAdjust="spacingAndGlyphs">150</text>
<line x1="328.50" y1="513.50" x2="331.00" y2="513.50" stroke="#7a7a7a" stroke-width="1"/>
<line x1="326.00" y1="503.50" x2="331.00" y2="503.50" stroke="#6a6a6a" stroke-width="1"/>
<text x="322.00" y="505.95" text-anchor="end" class="tk" textLength="9.76" lengthAdjust="spacingAndGlyphs">200</text>
<line x1="328.50" y1="493.50" x2="331.00" y2="493.50" stroke="#7a7a7a" stroke-width="1"/>
<line x1="326.00" y1="483.50" x2="331.00" y2="483.50" stroke="#6a6a6a" stroke-width="1"/>
<text x="322.00" y="485.86" text-anchor="end" class="tk" textLength="9.76" lengthAdjust="spacingAndGlyphs">250</text>
<line x1="328.50" y1="473.50" x2="331.00" y2="473.50" stroke="#7a7a7a" stroke-width="1"/>
<line x1="326.00" y1="463.50" x2="331.00" y2="463.50" stroke="#6a6a6a" stroke-width="1"/>
<text x="322.00" y="465.77" text-anchor="end" class="tk" textLength="9.76" lengthAdjust="spacingAndGlyphs">300</text>
<line x1="328.50" y1="453.50" x2="331.00" y2="453.50" stroke="#7a7a7a" stroke-width="1"/>
<line x1="326.00" y1="443.50" x2="331.00" y2="443.50" stroke="#6a6a6a" stroke-width="1"/>
<text x="322.00" y="445.69" text-anchor="end" class="tk" textLength="9.76" lengthAdjust="spacingAndGlyphs">350</text>
<line x1="328.50" y1="433.50" x2="331.00" y2="433.50" stroke="#7a7a7a" stroke-width="1"/>
<line x1="326.00" y1="423.50" x2="331.00" y2="423.50" stroke="#6a6a6a" stroke-width="1"/>
<text x="322.00" y="425.60" text-anchor="end" class="tk" textLength="9.76" lengthAdjust="spacingAndGlyphs">400</text>
<line x1="328.50" y1="584.50" x2="541.30" y2="584.50" stroke="#6a6a6a" stroke-width="1.0"/>
<line x1="328.50" y1="582.50" x2="328.50" y2="587.00" stroke="#6a6a6a" stroke-width="1"/>
<text x="328.40" y="595.70" text-anchor="middle" class="tk" textLength="4.22" lengthAdjust="spacingAndGlyphs">A</text>
<line x1="363.50" y1="582.50" x2="363.50" y2="587.00" stroke="#6a6a6a" stroke-width="1"/>
<text x="363.80" y="595.70" text-anchor="middle" class="tk" textLength="4.22" lengthAdjust="spacingAndGlyphs">B</text>
<line x1="399.50" y1="582.50" x2="399.50" y2="587.00" stroke="#6a6a6a" stroke-width="1"/>
<text x="399.20" y="595.70" text-anchor="middle" class="tk" textLength="4.22" lengthAdjust="spacingAndGlyphs">C</text>
<line x1="434.50" y1="582.50" x2="434.50" y2="587.00" stroke="#6a6a6a" stroke-width="1"/>
<text x="434.60" y="595.70" text-anchor="middle" class="tk" textLength="12.35" lengthAdjust="spacingAndGlyphs">NHS</text>
<line x1="470.50" y1="582.50" x2="470.50" y2="587.00" stroke="#6a6a6a" stroke-width="1"/>
<text x="470.00" y="595.70" text-anchor="middle" class="tk" textLength="11.05" lengthAdjust="spacingAndGlyphs">DT5</text>
<line x1="505.50" y1="582.50" x2="505.50" y2="587.00" stroke="#6a6a6a" stroke-width="1"/>
<text x="505.40" y="595.70" text-anchor="middle" class="tk" textLength="11.05" lengthAdjust="spacingAndGlyphs">DT3</text>
<line x1="540.50" y1="582.50" x2="540.50" y2="587.00" stroke="#6a6a6a" stroke-width="1"/>
<text x="540.80" y="595.70" text-anchor="middle" class="tk" textLength="11.05" lengthAdjust="spacingAndGlyphs">DT1</text>
<text x="444.70" y="610.00" class="axt" textLength="62.20" lengthAdjust="spacingAndGlyphs">HVAC operation type</text>
<g transform="translate(306.10,549.10) rotate(-90)"><text x="0" y="0" class="yt" textLength="64.04" lengthAdjust="spacingAndGlyphs">Cooling energy needs</text><text x="68.67" y="0" class="yt" textLength="23.93" lengthAdjust="spacingAndGlyphs">[kWh m</text><text x="94.33" y="-2.4" class="yt" style="font-size:4.2px" textLength="2.77" lengthAdjust="spacingAndGlyphs">-2</text><text x="98.95" y="0" class="yt" textLength="10.17" lengthAdjust="spacingAndGlyphs">year</text><text x="109.82" y="-2.4" class="yt" style="font-size:4.2px" textLength="2.77" lengthAdjust="spacingAndGlyphs">-1</text><text x="113.17" y="0" class="yt" textLength="2.77" lengthAdjust="spacingAndGlyphs">]</text></g>
<polyline points="328.40,470.40 363.80,490.89 399.20,509.78 434.60,584.10 470.00,536.69 505.40,528.26 540.80,519.42" fill="none" stroke="#e23a36" stroke-width="1.05" stroke-dasharray="2.2,1.5"/>
<polyline points="328.40,489.29 363.80,506.16 399.20,522.63 434.60,584.10 470.00,543.68 505.40,537.90 540.80,529.86" fill="none" stroke="#e23a36" stroke-width="1.05"/>
<polyline points="328.40,495.31 363.80,518.61 399.20,533.88 434.60,584.10 470.00,550.75 505.40,545.33 540.80,537.50" fill="none" stroke="#3030f2" stroke-width="1.05" stroke-dasharray="2.2,1.5"/>
<polyline points="328.40,509.37 363.80,529.46 399.20,542.32 434.60,584.10 470.00,556.46 505.40,551.76 540.80,545.33" fill="none" stroke="#3030f2" stroke-width="1.05"/>
<polyline points="328.40,514.20 363.80,532.68 399.20,545.93 434.60,584.10 470.00,558.79 505.40,551.76 540.80,544.13" fill="none" stroke="#32843a" stroke-width="1.05" stroke-dasharray="2.2,1.5"/>
<polyline points="328.40,525.85 363.80,541.11 399.20,552.76 434.60,584.10 470.00,563.21 505.40,557.75 540.80,550.75" fill="none" stroke="#32843a" stroke-width="1.05"/>
<path d="M328.40,468.26L330.35,471.87L326.45,471.87Z" fill="#fff" stroke="#d81818" stroke-width="1.0"/>
<path d="M363.80,488.75L365.75,492.36L361.85,492.36Z" fill="#fff" stroke="#d81818" stroke-width="1.0"/>
<path d="M399.20,507.63L401.15,511.24L397.25,511.24Z" fill="#fff" stroke="#d81818" stroke-width="1.0"/>
<path d="M434.60,581.96L436.55,585.56L432.65,585.56Z" fill="#fff" stroke="#d81818" stroke-width="1.0"/>
<path d="M470.00,534.55L471.95,538.16L468.05,538.16Z" fill="#fff" stroke="#d81818" stroke-width="1.0"/>
<path d="M505.40,526.11L507.35,529.72L503.45,529.72Z" fill="#fff" stroke="#d81818" stroke-width="1.0"/>
<path d="M540.80,517.27L542.75,520.88L538.85,520.88Z" fill="#fff" stroke="#d81818" stroke-width="1.0"/>
<path d="M328.40,487.14L330.35,490.75L326.45,490.75Z" fill="#fff" stroke="#d81818" stroke-width="1.0"/>
<path d="M363.80,504.02L365.75,507.62L361.85,507.62Z" fill="#fff" stroke="#d81818" stroke-width="1.0"/>
<path d="M399.20,520.49L401.15,524.09L397.25,524.09Z" fill="#fff" stroke="#d81818" stroke-width="1.0"/>
<path d="M434.60,581.96L436.55,585.56L432.65,585.56Z" fill="#fff" stroke="#d81818" stroke-width="1.0"/>
<path d="M470.00,541.54L471.95,545.15L468.05,545.15Z" fill="#fff" stroke="#d81818" stroke-width="1.0"/>
<path d="M505.40,535.75L507.35,539.36L503.45,539.36Z" fill="#fff" stroke="#d81818" stroke-width="1.0"/>
<path d="M540.80,527.72L542.75,531.33L538.85,531.33Z" fill="#fff" stroke="#d81818" stroke-width="1.0"/>
<rect x="326.85" y="493.76" width="3.10" height="3.10" fill="#fff" stroke="#1414f0" stroke-width="1.0"/>
<rect x="362.25" y="517.06" width="3.10" height="3.10" fill="#fff" stroke="#1414f0" stroke-width="1.0"/>
<rect x="397.65" y="532.33" width="3.10" height="3.10" fill="#fff" stroke="#1414f0" stroke-width="1.0"/>
<rect x="433.05" y="582.55" width="3.10" height="3.10" fill="#fff" stroke="#1414f0" stroke-width="1.0"/>
<rect x="468.45" y="549.20" width="3.10" height="3.10" fill="#fff" stroke="#1414f0" stroke-width="1.0"/>
<rect x="503.85" y="543.78" width="3.10" height="3.10" fill="#fff" stroke="#1414f0" stroke-width="1.0"/>
<rect x="539.25" y="535.95" width="3.10" height="3.10" fill="#fff" stroke="#1414f0" stroke-width="1.0"/>
<rect x="326.85" y="507.82" width="3.10" height="3.10" fill="#fff" stroke="#1414f0" stroke-width="1.0"/>
<rect x="362.25" y="527.91" width="3.10" height="3.10" fill="#fff" stroke="#1414f0" stroke-width="1.0"/>
<rect x="397.65" y="540.77" width="3.10" height="3.10" fill="#fff" stroke="#1414f0" stroke-width="1.0"/>
<rect x="433.05" y="582.55" width="3.10" height="3.10" fill="#fff" stroke="#1414f0" stroke-width="1.0"/>
<rect x="468.45" y="554.91" width="3.10" height="3.10" fill="#fff" stroke="#1414f0" stroke-width="1.0"/>
<rect x="503.85" y="550.21" width="3.10" height="3.10" fill="#fff" stroke="#1414f0" stroke-width="1.0"/>
<rect x="539.25" y="543.78" width="3.10" height="3.10" fill="#fff" stroke="#1414f0" stroke-width="1.0"/>
<circle cx="328.40" cy="514.20" r="1.60" fill="#fff" stroke="#146414" stroke-width="1.0"/>
<circle cx="363.80" cy="532.68" r="1.60" fill="#fff" stroke="#146414" stroke-width="1.0"/>
<circle cx="399.20" cy="545.93" r="1.60" fill="#fff" stroke="#146414" stroke-width="1.0"/>
<circle cx="434.60" cy="584.10" r="1.60" fill="#fff" stroke="#146414" stroke-width="1.0"/>
<circle cx="470.00" cy="558.79" r="1.60" fill="#fff" stroke="#146414" stroke-width="1.0"/>
<circle cx="505.40" cy="551.76" r="1.60" fill="#fff" stroke="#146414" stroke-width="1.0"/>
<circle cx="540.80" cy="544.13" r="1.60" fill="#fff" stroke="#146414" stroke-width="1.0"/>
<circle cx="328.40" cy="525.85" r="1.60" fill="#fff" stroke="#146414" stroke-width="1.0"/>
<circle cx="363.80" cy="541.11" r="1.60" fill="#fff" stroke="#146414" stroke-width="1.0"/>
<circle cx="399.20" cy="552.76" r="1.60" fill="#fff" stroke="#146414" stroke-width="1.0"/>
<circle cx="434.60" cy="584.10" r="1.60" fill="#fff" stroke="#146414" stroke-width="1.0"/>
<circle cx="470.00" cy="563.21" r="1.60" fill="#fff" stroke="#146414" stroke-width="1.0"/>
<circle cx="505.40" cy="557.75" r="1.60" fill="#fff" stroke="#146414" stroke-width="1.0"/>
<circle cx="540.80" cy="550.75" r="1.60" fill="#fff" stroke="#146414" stroke-width="1.0"/>
<rect x="341.60" y="432.10" width="61.20" height="8" fill="#fff"/>
<text x="343.10" y="438.10" class="lab" textLength="58.20" lengthAdjust="spacingAndGlyphs">MC2 - Supermarket</text>
<rect x="425.40" y="429.50" width="71.10" height="64.10" fill="#fff" stroke="#e4e4e4" stroke-width="0.7"/>
<path d="M429.10,434.70H431.30M434.60,434.70H437.40M440.70,434.70H442.90" stroke="#e23a36" stroke-width="1.05"/>
<path d="M436.00,432.45L438.05,436.24L433.95,436.24Z" fill="#fff" stroke="#d81818" stroke-width="1.0"/>
<text x="446.20" y="436.70" class="lg" textLength="42.67" lengthAdjust="spacingAndGlyphs">C: HRS, no TIoGS</text>
<line x1="429.10" y1="445.40" x2="442.90" y2="445.40" stroke="#e23a36" stroke-width="1.05"/>
<path d="M436.00,443.15L438.05,446.94L433.95,446.94Z" fill="#fff" stroke="#d81818" stroke-width="1.0"/>
<text x="446.20" y="447.40" class="lg" textLength="46.71" lengthAdjust="spacingAndGlyphs">C: HRS, with TI&amp;GS</text>
<path d="M429.10,456.00H431.30M434.60,456.00H437.40M440.70,456.00H442.90" stroke="#3030f2" stroke-width="1.05"/>
<rect x="434.37" y="454.37" width="3.26" height="3.26" fill="#fff" stroke="#1414f0" stroke-width="1.0"/>
<text x="446.20" y="458.00" class="lg" textLength="43.25" lengthAdjust="spacingAndGlyphs">C: MRS, no TIoGS</text>
<line x1="429.10" y1="467.10" x2="442.90" y2="467.10" stroke="#3030f2" stroke-width="1.05"/>
<rect x="434.37" y="465.47" width="3.26" height="3.26" fill="#fff" stroke="#1414f0" stroke-width="1.0"/>
<text x="446.20" y="469.10" class="lg" textLength="47.29" lengthAdjust="spacingAndGlyphs">C: MRS, with TI&amp;GS</text>
<path d="M429.10,477.80H431.30M434.60,477.80H437.40M440.70,477.80H442.90" stroke="#32843a" stroke-width="1.05"/>
<circle cx="436.00" cy="477.80" r="1.68" fill="#fff" stroke="#146414" stroke-width="1.0"/>
<text x="446.20" y="479.80" class="lg" textLength="42.96" lengthAdjust="spacingAndGlyphs">C: NCC, no TIoGS</text>
<line x1="429.10" y1="488.70" x2="442.90" y2="488.70" stroke="#32843a" stroke-width="1.05"/>
<circle cx="436.00" cy="488.70" r="1.68" fill="#fff" stroke="#146414" stroke-width="1.0"/>
<text x="446.20" y="490.70" class="lg" textLength="47.00" lengthAdjust="spacingAndGlyphs">C: NCC, with TI&amp;GS</text>
<g transform="translate(0,13.1) scale(1,1.14) translate(0,-13.1)">
<text x="24.80" y="13.1" class="ttl" textLength="166.20" lengthAdjust="spacing">Heating energy demand [kWh m</text>
<text x="191.60" y="9.2" class="sup">−2</text>
<text x="202.00" y="13.1" class="ttl" textLength="20" lengthAdjust="spacingAndGlyphs">year</text>
<text x="222.00" y="9.2" class="sup">−1</text>
<text x="229.80" y="13.1" class="ttl">]</text>
</g>
<g transform="translate(0,13.1) scale(1,1.14) translate(0,-13.1)">
<text x="317.60" y="13.1" class="ttl" textLength="167.80" lengthAdjust="spacing">Cooling energy demand [kWh m</text>
<text x="485.20" y="9.2" class="sup">−2</text>
<text x="495.60" y="13.1" class="ttl" textLength="20" lengthAdjust="spacingAndGlyphs">year</text>
<text x="516.00" y="9.2" class="sup">−1</text>
<text x="523.80" y="13.1" class="ttl">]</text>
</g>
</svg></body></html>
